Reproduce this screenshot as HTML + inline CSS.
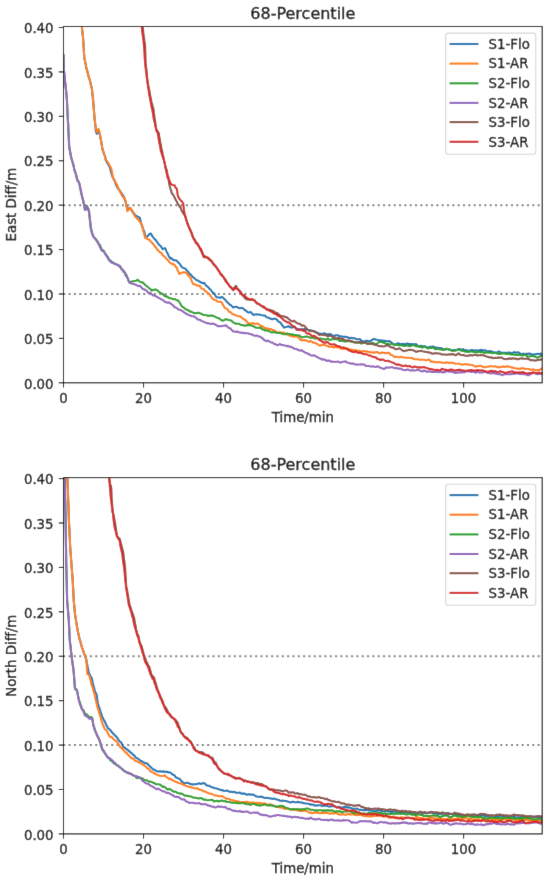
<!DOCTYPE html><html><head><meta charset="utf-8"><title>68-Percentile</title><style>html,body{margin:0;padding:0;background:#fff;}svg{display:block;}text{font-family:"DejaVu Sans","Liberation Sans",sans-serif;fill:#1a1a1a;stroke:#1a1a1a;stroke-width:0.35px;}</style></head><body>
<svg width="550" height="881" viewBox="0 0 550 881">
<defs><filter id="bl" x="0" y="0" width="550" height="881" filterUnits="userSpaceOnUse"><feConvolveMatrix order="3" kernelMatrix="0.00524 0.06192 0.00524 0.06192 0.73137 0.06192 0.00524 0.06192 0.00524" edgeMode="duplicate"/></filter></defs><g filter="url(#bl)">
<rect width="550" height="881" fill="#fff"/>
<clipPath id="c0"><rect x="63.5" y="26.5" width="478.70000000000005" height="356.3"/></clipPath>
<line x1="63.5" x2="542.2" y1="293.98" y2="293.98" stroke="#808080" stroke-width="2" stroke-dasharray="2 3.33" stroke-dashoffset="-5.1"/>
<line x1="63.5" x2="542.2" y1="205.15" y2="205.15" stroke="#808080" stroke-width="2" stroke-dasharray="2 3.33" stroke-dashoffset="-5.1"/>
<g clip-path="url(#c0)" fill="none" stroke-width="2.1" stroke-linejoin="round" stroke-linecap="square">
<polyline stroke="#1f77b4" points="81.8,26.92 81.96,27.65 82.12,29.02 82.29,30.92 82.45,32.05 82.61,33.76 82.77,35.51 82.94,36.72 83.1,37.84 83.19,39.71 83.28,41.77 83.38,42.84 83.47,44.2 83.56,46.48 83.65,47.43 83.75,48.6 83.84,51.19 83.93,51.54 84.02,53.38 84.12,53.8 84.21,55.26 84.3,57.66 84.57,59.53 84.84,60.27 85.11,61.49 85.39,63.03 85.66,63.93 85.93,65.85 86.2,68.33 86.59,68.75 86.97,69.28 87.36,71.18 87.75,72.69 88.14,75.03 88.53,76.1 88.91,77.36 89.3,78.61 89.72,79.73 90.13,81.77 90.55,82.73 90.97,85.05 91.38,86.55 91.8,88.29 91.97,89.44 92.14,90.57 92.31,93.08 92.49,94.59 92.66,96.43 92.83,97.69 93,100.14 93.11,101.11 93.23,101.64 93.34,103.34 93.45,104.77 93.57,104.97 93.68,106.65 93.79,108.72 93.91,110.45 94.02,111.55 94.13,112.39 94.25,114.23 94.36,115.16 94.47,117.41 94.59,118.59 94.7,119.6 94.86,121.07 95.01,122.48 95.17,124.06 95.33,125.56 95.49,127.25 95.64,129.17 95.8,131.12 96.3,132.32 96.8,133.81 97.7,132.4 98.6,131.17 99.07,132.84 99.55,133.49 100.03,136.16 100.5,137.19 100.74,139.57 100.97,140.15 101.21,141.24 101.45,142.79 101.69,144.31 101.93,145.55 102.16,147.55 102.4,148.18 102.88,150.42 103.35,151.5 103.83,153.65 104.3,154.77 104.78,155.57 105.25,157.46 105.73,159.96 106.2,161.02 106.92,162.36 107.65,163.54 108.38,164.63 109.1,165.94 109.59,166.98 110.07,168.13 110.56,170.05 111.05,172.47 111.54,173.99 112.03,175.44 112.51,176.78 113,177.65 113.69,179.16 114.37,180.35 115.06,182.22 115.74,184.02 116.43,185.66 117.11,186.8 117.8,188.33 118.58,188.98 119.36,190.15 120.14,191.33 120.92,192.26 121.7,193.29 122.46,194.55 123.22,196.06 123.98,196.85 124.74,199.67 125.5,201.08 125.82,202.46 126.13,204.12 126.45,205.34 126.77,206.94 127.08,208.47 127.4,210.07 128.85,208.09 130.3,208.07 131.27,209.61 132.23,211.35 133.2,212.92 134.3,213.87 135.4,215.36 136.5,215.85 138.15,216.99 139.8,217.74 140.24,219.22 140.68,221.81 141.12,223.69 141.56,224.78 142,226.31 142.41,227.17 142.82,227.48 143.24,229.3 143.65,230.56 144.06,231.45 144.48,232.04 144.89,234.61 145.3,236.3 147.5,236.49 148.57,234.94 149.63,233.9 150.7,233.45 151.43,234.43 152.17,235.97 152.9,236.93 154,238.51 155.1,239.43 156.2,240.78 157.3,242.2 158.37,243.89 159.43,245.13 160.5,245.85 161.6,247.49 162.7,249.18 164.9,248.11 165.63,249.17 166.37,251.14 167.1,252.65 167.93,254.03 168.75,256.46 169.57,257.13 170.4,258.6 171.83,258.4 173.27,260.11 174.7,260.17 176.9,260.81 178,262.26 179.1,263.33 180.2,264.39 181.3,266.46 182.73,267.58 184.17,268.26 185.6,268.79 186.48,270.22 187.36,270.95 188.24,271.77 189.12,273.46 190,274.08 191.1,274.9 192.2,276.44 193.3,277.43 194.4,278.15 195.5,279.38 196.93,280.16 198.37,280.72 199.8,281.79 201.27,282.54 202.73,283.3 204.2,282.86 205.3,284.47 206.4,286.01 207.5,286.55 208.57,287.62 209.65,289.09 210.73,289.59 211.8,291.29 212.9,292.95 214,293.14 215.1,294.85 216.2,297.17 217.3,297.19 218.65,297.45 220,297.87 221.47,297.03 222.93,297.49 224.4,298.9 225.47,300.01 226.55,301.52 227.62,302.56 228.7,303.59 229.8,304.76 230.9,305.1 232,306.35 233.1,307.41 234.57,307.06 236.03,306.75 237.5,307.15 238.93,308.22 240.37,308.14 241.8,307.71 243.25,308.58 244.7,309.96 246.15,310.75 247.6,312.21 249.05,312.6 250.5,311.9 252,313.51 253.5,314.94 254.93,314.52 256.37,314.18 257.8,314.56 259.27,314.54 260.73,315.03 262.2,315.31 263.63,315.53 265.07,315.57 266.5,317.31 267.97,317.45 269.43,318.29 270.9,318.9 272.37,319.13 273.83,318.67 275.3,318.78 276.73,319.49 278.17,321.41 279.6,322.06 280.7,322.95 281.8,324.71 282.9,325.96 284,327.58 285.47,327.33 286.93,326.84 288.4,326.05 289.83,327.26 291.27,327.41 292.7,327.37 293.1,326.66 294.55,327.04 296,328.15 297.45,329.4 298.9,329.1 300.35,329.61 301.8,329.27 303.25,329.27 304.7,329.13 306.15,329.49 307.6,330.01 309.05,330.21 310.5,330.14 311.97,330.69 313.43,330.94 314.9,331.86 316.37,332.23 317.83,332.95 319.3,333.93 320.75,333.65 322.2,334.49 323.65,333.36 325.1,333.5 326.55,334.36 328,334.37 329.45,334.15 330.9,334.31 332.35,335.41 333.8,336.25 335.25,335.4 336.7,335.29 338.17,335.28 339.63,336.3 341.1,336.25 342.57,336.57 344.03,336.73 345.5,336.83 346.95,336.98 348.4,337.83 349.85,338.06 351.3,337.84 352.75,338.28 354.2,338.15 355.65,338.86 357.1,339.19 358.55,339.31 360,339.04 361.45,340.93 362.9,341.16 364.35,341.73 365.8,340.84 367.25,340.79 368.7,341.34 370.15,341.12 371.6,340.27 373.07,339.23 374.53,338.9 376,339.54 377.47,340.06 378.93,340.34 380.4,340.24 381.85,340.45 383.3,340.83 384.75,340.73 386.2,341.02 387.65,341.33 389.1,340.94 390.58,341.9 392.05,343.06 393.52,344.27 395,344.36 396.51,343.95 398.02,343.22 399.53,343.77 401.04,344.15 402.56,343.68 404.07,344.16 405.58,343.95 407.09,343.55 408.6,343.89 410.12,344.04 411.64,344.09 413.17,344.21 414.69,344.4 416.21,344.16 417.73,345.68 419.26,346.36 420.78,345.68 422.3,346.08 423.81,346.24 425.32,346.32 426.83,347.28 428.34,347.48 429.86,346.86 431.37,346.91 432.88,346.38 434.39,347.12 435.9,347.56 437.41,347.86 438.92,347.92 440.43,348.13 441.94,348.43 443.46,349.41 444.97,349.27 446.48,349.04 447.99,349.33 449.5,349.72 451.02,350.09 452.54,350.34 454.07,349.9 455.59,350.21 457.11,349.69 458.63,349.11 460.16,349.11 461.68,349.7 463.2,349.12 464.9,350.33 466.6,350.32 468.3,350.68 470,350.53 471.51,349.99 473.02,350.15 474.53,350.65 476.04,350.28 477.56,350.65 479.07,350.36 480.58,349.89 482.09,349.93 483.6,350.64 485.12,350.27 486.64,351 488.17,351.18 489.69,350.97 491.21,351.21 492.73,352.22 494.26,352.39 495.78,352.53 497.3,352.15 498.81,351.4 500.32,352.12 501.83,352.73 503.34,352.77 504.86,352.84 506.37,352.92 507.88,352.81 509.39,352.57 510.9,353.04 512.41,353.04 513.92,352.08 515.43,352.5 516.94,352.6 518.46,352.19 519.97,353.42 521.48,354.5 522.99,353.6 524.5,353.95 525.98,353.75 527.45,353.86 528.92,353.61 530.4,353.8 531.88,354.51 533.35,354.48 534.83,354.23 536.3,354.1 537.78,353.81 539.25,353.94 540.73,353.6 542.2,354.53"/>
<polyline stroke="#ff7f0e" points="81.8,25.69 81.96,27.43 82.12,29.55 82.29,30.99 82.45,32.62 82.61,33.44 82.77,35.12 82.94,36.67 83.1,38.84 83.19,40.29 83.28,41.66 83.38,42.72 83.47,43.89 83.56,45.55 83.65,47.74 83.75,48.12 83.84,48.5 83.93,51.56 84.02,53.79 84.12,55.26 84.21,56.59 84.3,57.59 84.57,58.79 84.84,59.68 85.11,61.64 85.39,63 85.66,63.57 85.93,65.16 86.2,66.66 86.59,68.06 86.97,70.69 87.36,72.42 87.75,72 88.14,74.05 88.53,76.11 88.91,78.02 89.3,79.49 89.72,79.77 90.13,81.92 90.55,83.46 90.97,85.68 91.38,87.16 91.8,87.74 91.97,90.26 92.14,90.93 92.31,93.03 92.49,94.57 92.66,95.64 92.83,96.07 93,97.59 93.11,99 93.23,100.77 93.34,102.38 93.45,104.79 93.57,106.24 93.68,108.04 93.79,108.58 93.91,109.81 94.02,111.77 94.13,113.55 94.25,115.04 94.36,115.97 94.47,116.81 94.59,119.23 94.7,120.08 94.94,121.33 95.17,123.58 95.41,124.8 95.65,125.78 95.89,127.65 96.12,128.85 96.36,130.87 96.6,131.98 97.23,130.14 97.87,130.09 98.5,128.95 98.79,129.9 99.07,130.89 99.36,131.45 99.64,132.7 99.93,133.67 100.21,135.81 100.5,137.81 100.74,138.91 100.97,140.06 101.21,141.76 101.45,143.16 101.69,144.84 101.93,146.42 102.16,147.9 102.4,149.47 102.88,150.23 103.35,152.07 103.83,152.46 104.3,154.28 104.78,155.76 105.25,157.55 105.73,158.93 106.2,160.54 107.02,160.95 107.83,162.32 108.65,163.52 109.47,165.3 110.28,166.81 111.1,167.91 111.42,169.38 111.73,170.8 112.05,172.57 112.37,174.54 112.68,176.48 113,177.89 113.69,178.71 114.37,179.86 115.06,181.83 115.74,182.72 116.43,184.14 117.11,184.61 117.8,186.95 118.45,188.42 119.1,189.48 119.75,190.84 120.4,192.55 121.05,193.76 121.7,195.15 122.65,196.56 123.6,197.42 124.55,198.26 125.5,200.63 125.77,201.84 126.04,203.93 126.31,205.73 126.59,206.6 126.86,207.6 127.13,208.79 127.4,211.1 128.85,209.44 130.3,207.74 131.03,209.32 131.75,209.9 132.47,210.88 133.2,211.96 133.8,214.13 134.4,215.65 135.47,216.77 136.55,218.25 137.62,219.04 138.7,219.94 139.8,221.97 140.9,223.1 142,224.74 142.37,226.77 142.73,228.25 143.1,230.53 143.47,231.57 143.83,232.11 144.2,233.91 144.57,235.5 144.93,237.29 145.3,237.92 146.73,238.4 148.17,239.41 149.6,239.76 150.7,241.52 151.8,242.26 152.9,243.79 154,245.03 154.88,246.8 155.76,247.11 156.64,248.76 157.52,249.73 158.4,250.67 159.47,251.6 160.55,252.49 161.62,253.38 162.7,255.29 164.17,256.13 165.63,258.06 167.1,259.34 168.2,260.56 169.3,262.03 170.4,262.79 172,264.1 173.6,264.09 174.7,265.13 175.8,266.87 176.9,267.83 177.45,269.94 178,271.05 178.55,271.82 179.1,273.88 180.57,273.34 182.03,272.71 183.5,272.24 185.1,272.41 186.7,272.92 187.8,274.87 188.9,275.92 190,277.37 190.66,278.42 191.32,279.95 191.98,281.63 192.64,283.16 193.3,284.21 194.9,284.4 196.5,285.22 198.15,285.66 199.8,285.81 200.9,287.95 202,288.45 203.1,288.88 204.2,289.68 205.27,291.21 206.35,291.67 207.43,292.74 208.5,293.15 209.6,294.48 210.7,296.15 211.8,297.75 212.9,298.95 214.37,299.94 215.83,300.02 217.3,301.43 220,302.03 220.88,301.89 221.76,302.52 222.64,304.22 223.52,305.71 224.4,307.34 225.43,308.13 226.46,308.47 227.49,309.23 228.51,311.11 229.54,311.98 230.57,312.11 231.6,313.33 233.06,314.28 234.52,314.71 235.98,315.43 237.44,315.97 238.9,316.26 240.35,316.58 241.8,317.63 243.25,318.93 244.7,319.46 246.17,320.98 247.63,322.7 249.1,323.57 250.55,323.52 252,323.43 253.45,323.02 254.9,323.98 256.37,323.77 257.83,323.59 259.3,324.73 260.73,325.88 262.17,326.23 263.6,327.21 265.08,327.97 266.55,328.95 268.02,328.58 269.5,329.06 270.95,329.09 272.4,329.99 273.85,330.27 275.3,331.11 276.74,332.35 278.18,332.58 279.62,332.16 281.06,332.41 282.5,332.88 283.96,332.43 285.42,333.71 286.88,334.21 288.34,334.95 289.8,335.76 291.26,335.85 292.72,336.51 294.18,336.66 295.64,336.14 297.1,336.45 298.28,337.31 299.45,338.59 300.62,340.17 301.8,339.98 303.25,340.17 304.7,340.05 306.15,340.47 307.6,341.1 309.05,341.9 310.5,340.93 311.97,341.63 313.43,342.82 314.9,342.76 316.37,343.65 317.83,344.29 319.3,345.35 320.75,345.53 322.2,344.52 323.65,344.62 325.1,345.35 326.55,345.74 328,346.06 329.45,346.98 330.9,346.51 332.35,346.9 333.8,347.59 335.25,346.76 336.7,347.28 338.17,347.48 339.63,347.47 341.1,348.84 342.57,348.43 344.03,348.91 345.5,348.53 346.95,348.33 348.4,348.81 349.85,349.61 351.3,349.57 352.75,349.98 354.2,349.95 355.65,350.57 357.1,350.61 358.55,350.73 360,351.09 361.45,351.28 362.9,351.29 364.35,351.14 365.8,351.37 367.25,351.33 368.7,352.16 370.15,352.11 371.6,352.56 373.07,352.27 374.53,352.66 376,352.01 377.47,352.11 378.93,353.09 380.4,353.31 381.85,352.43 383.3,352.73 384.75,353.11 386.2,353.16 387.65,352.89 389.1,352.88 390.58,354.77 392.05,355.18 393.52,356.25 395,357.08 396.51,356.68 398.02,356.96 399.53,357.17 401.04,356.8 402.56,357.22 404.07,357.47 405.58,357.77 407.09,357.73 408.6,357.72 410.12,358.05 411.64,357.91 413.17,358.78 414.69,359.1 416.21,359.22 417.73,359.23 419.26,359.63 420.78,359.81 422.3,359.76 423.73,359.75 425.15,360.1 426.57,360.28 428,359.62 429.32,359.62 430.63,361.52 431.95,361.58 433.27,361.83 434.58,361.72 435.9,362.34 437.41,362.17 438.92,362.05 440.43,362.29 441.94,362.6 443.46,362.79 444.97,362.94 446.48,362.17 447.99,362.86 449.5,362.72 451.02,363.01 452.54,362.59 454.07,363.33 455.59,363.77 457.11,363.81 458.63,363.81 460.16,363.8 461.68,364.8 463.2,364.5 464.9,364.12 466.6,364.17 468.3,364.62 470,364.77 471.51,364.99 473.02,365.33 474.53,366.04 476.04,366.77 477.56,366.13 479.07,365.93 480.58,365.85 482.09,366.42 483.6,367.06 485.12,367.18 486.64,366.74 488.17,366.73 489.69,366.19 491.21,366.31 492.73,366.49 494.26,366.25 495.78,366.52 497.3,367.21 498.81,366.93 500.32,367.12 501.83,367.05 503.34,366.22 504.86,366.98 506.37,366.56 507.88,366.14 509.39,366.84 510.9,367.2 512.41,367.63 513.92,367.89 515.43,368.47 516.94,368.45 518.46,368.82 519.97,368.87 521.48,368.12 522.99,368.37 524.5,368.7 525.98,368.91 527.45,368.95 528.92,368.97 530.4,369.8 531.88,369.86 533.35,369.35 534.83,370.05 536.3,370.13 537.78,370.15 539.25,370.12 540.73,369.08 542.2,368.46"/>
<polyline stroke="#2ca02c" points="63.5,54.91 63.54,56.49 63.58,58.66 63.62,59.2 63.66,61.23 63.7,62.42 63.74,64.45 63.78,65.65 63.82,67.03 63.86,68.7 63.9,69.83 64.05,71.28 64.2,72.63 64.35,74.71 64.5,76.03 64.65,76.52 64.8,78.25 64.95,79.82 65.1,81.23 65.25,83.23 65.4,84.86 65.55,85.3 65.7,87.36 65.85,88.38 66,89.56 66.13,90.83 66.26,92.34 66.39,94.23 66.51,95.06 66.64,96.61 66.77,97.86 66.9,99.39 66.97,100.82 67.04,102.73 67.11,104.55 67.19,105.45 67.26,107.13 67.33,107.91 67.4,109.75 67.47,111.63 67.55,112.9 67.62,115.38 67.69,116.59 67.76,117.31 67.84,118.81 67.91,119.8 67.98,121.49 68.05,122.79 68.13,124.2 68.2,124.42 68.27,125.99 68.34,128.2 68.41,130.11 68.49,131.85 68.56,133.26 68.63,135.02 68.7,136.63 68.76,137.94 68.83,139.56 68.89,140.99 68.95,141.8 69.01,143.3 69.08,144.94 69.14,145.99 69.2,146.38 69.45,148.04 69.7,149.9 69.95,150.4 70.2,151.77 70.55,153.17 70.9,155.81 71.25,157.56 71.6,158.66 71.95,160.41 72.3,161.76 72.7,162.36 73.1,163.8 73.5,165.83 73.9,167.08 74.3,169.62 74.7,170.41 75.1,171.48 75.5,172.77 75.9,174.24 76.3,175.65 76.67,177.6 77.03,179.67 77.4,180.43 78.35,181.34 79.3,183.13 79.62,184.81 79.94,187.12 80.27,188.67 80.59,189.94 80.91,192.49 81.23,192.9 81.56,193.72 81.88,195.98 82.2,197.58 82.58,198.91 82.96,199.75 83.34,201.6 83.72,203.28 84.1,204.47 84.32,206.06 84.55,206.88 84.78,209.12 85,210.01 85.67,209.34 86.33,207.55 87,205.95 87.63,207.42 88.27,208.53 88.9,210.42 89.06,211.48 89.22,213.17 89.38,215.01 89.53,216.78 89.69,218.42 89.85,219.48 90.01,221.68 90.17,222.63 90.33,223.57 90.48,225.11 90.64,227.32 90.8,227.65 91.2,229.04 91.6,231.36 92,232.76 92.4,233.58 92.8,235.55 93.73,237.1 94.67,238.2 95.6,238.87 96.57,240.22 97.53,241.38 98.5,243.48 99.22,244.32 99.95,245.06 100.68,247.05 101.4,248.56 102.36,250.46 103.32,250.37 104.28,251.8 105.24,253.65 106.2,254.69 107.17,256.3 108.15,257.4 109.12,259.71 110.1,260.34 111.4,261.37 112.7,262.3 114,263.24 115.4,264.11 116.8,264.44 118.25,265.41 119.7,266.57 120.67,267.8 121.65,269.36 122.62,269.92 123.6,271.93 124.36,272.22 125.12,272.93 125.88,274.33 126.64,275.5 127.4,277.55 128.07,279.27 128.73,281.01 129.4,282.56 129.8,282.28 130,282.67 131.47,281.64 132.93,281.34 134.4,281.03 136,280.78 137.6,279.74 138.7,280.7 139.8,281.59 141.45,282.36 143.1,282.6 144.57,284.29 146.03,285.67 147.5,286.74 148.93,287.97 150.37,289.06 151.8,290.58 153.27,290.05 154.73,289.58 156.2,289.55 157.63,290.57 159.07,292.03 160.5,292.93 161.97,293.58 163.43,294.82 164.9,296.33 166.37,296.26 167.83,297.19 169.3,298.23 170.73,298.28 172.17,298.74 173.6,299.27 175.07,299.13 176.53,300.23 178,300.4 179.1,301.78 180.2,303.51 181.3,305.63 182.4,306.76 183.83,307.6 185.27,308.93 186.7,309.81 188.17,310.13 189.63,311.35 191.1,311.6 192.57,312.32 194.03,313.23 195.5,313.12 196.93,313.1 198.37,312.66 199.8,313.29 201.27,313.73 202.73,314.59 204.2,315.01 205.63,315.06 207.07,315.43 208.5,316.03 209.97,315.45 211.43,315.63 212.9,315.67 214.37,316.28 215.83,317.14 217.3,317.8 218.65,318.08 220,319.1 221.46,320.15 222.92,320.65 224.38,320.01 225.84,319.3 227.3,319.5 228.74,319.97 230.18,320.33 231.62,320.84 233.06,322.36 234.5,322.91 235.96,323.77 237.42,323.82 238.88,323.69 240.34,324.73 241.8,325.1 243.26,325.15 244.72,325.66 246.18,325.47 247.64,325.15 249.1,325.09 250.56,325.28 252.02,325.68 253.48,326.29 254.94,327.23 256.4,327.79 257.84,327.8 259.28,327.99 260.72,327.61 262.16,329.37 263.6,329.44 265.06,330.55 266.52,330.48 267.98,330.79 269.44,331.31 270.9,332.19 272.36,332.42 273.82,331.93 275.28,332.26 276.74,333.06 278.2,333.05 279.66,332.8 281.12,333.34 282.58,334.04 284.04,334.26 285.5,334.29 286.94,333.41 288.38,333.71 289.82,333.94 291.26,334.67 292.7,334.39 294.16,335.03 295.62,334.94 297.08,335.21 298.54,335.21 300,336.13 301.8,337.35 303.25,337.07 304.7,336.81 306.15,336.48 307.6,336.83 309.05,337.26 310.5,337.63 311.97,337.53 313.43,337.98 314.9,338.52 316.37,338.56 317.83,338.42 319.3,338.66 320.75,338.49 322.2,338.79 323.65,338.95 325.1,339.66 326.55,339.34 328,338.5 329.45,339.98 330.9,339.77 332.35,338.84 333.8,339.12 335.25,339.17 336.7,338.91 338.17,339.54 339.63,341.03 341.1,340.87 342.57,340.71 344.03,341.33 345.5,341.35 346.95,341.21 348.4,341.09 349.85,340.88 351.3,341.9 352.75,342.06 354.2,342.35 355.65,342.1 357.1,342.59 358.55,342.64 360,342.7 361.45,343.74 362.9,342.64 364.35,343.08 365.8,342.88 367.25,343.42 368.7,343.91 370.15,343.66 371.6,343.1 373.07,342.95 374.53,343.8 376,344.19 377.47,343.27 378.93,342.06 380.4,341.81 381.85,341.91 383.3,342.75 384.75,343.04 386.2,343.89 387.65,343.67 389.1,344.49 390.58,344.2 392.05,343.84 393.52,344.59 395,344.95 396.51,344.47 398.02,345.12 399.53,345.33 401.04,345 402.56,345.5 404.07,345.98 405.58,345.69 407.09,345.23 408.6,346.06 410.12,346.15 411.64,345.48 413.17,345.11 414.69,345.59 416.21,346.39 417.73,346.04 419.26,346.9 420.78,346.73 422.3,347.63 423.81,346.92 425.32,346.97 426.83,347.99 428.34,348.49 429.86,347.83 431.37,348.08 432.88,347.41 434.39,348.54 435.9,349.35 437.41,348.82 438.92,349.28 440.43,349.12 441.94,349.89 443.46,349.57 444.97,349.64 446.48,348.67 447.99,349.11 449.5,349.48 451.02,350.34 452.54,351.04 454.07,350.66 455.59,350.5 457.11,350.01 458.63,349.54 460.16,350.04 461.68,350.85 463.2,350.87 464.9,351.62 466.6,351.52 468.3,352.07 470,351.62 471.51,351.21 473.02,351.86 474.53,351.91 476.04,352.38 477.56,352.21 479.07,351.76 480.58,352.13 482.09,351.97 483.6,352.58 485.12,353.01 486.64,352 488.17,352.78 489.69,352.78 491.21,352.81 492.73,353.25 494.26,352.97 495.78,353 497.3,353.63 498.81,353.85 500.32,354.06 501.83,353.37 503.34,353.38 504.86,353.46 506.37,354.08 507.88,353.81 509.39,353.96 510.9,354.57 512.41,354.26 513.92,354.75 515.43,354.55 516.94,355.13 518.46,354.68 519.97,354.96 521.48,355.15 522.99,355.53 524.5,354.18 525.98,355.32 527.45,356.69 528.92,356.49 530.4,356.28 531.88,356.31 533.35,356.06 534.83,356.46 536.3,357.45 537.78,357.31 539.25,356.86 540.73,355.89 542.2,355.84"/>
<polyline stroke="#9467bd" points="63.5,55.52 63.54,57.49 63.58,59.17 63.62,61.02 63.66,62.07 63.7,63.78 63.74,65.22 63.78,66.06 63.82,68.06 63.86,68.98 63.9,69.65 64.05,71 64.2,72.2 64.35,73.62 64.5,75.71 64.65,77.06 64.8,79.31 64.95,80.28 65.1,81.87 65.25,83.11 65.4,83.54 65.55,85.3 65.7,87.09 65.85,89.02 66,89.66 66.13,91.76 66.26,93.7 66.39,94.42 66.51,96.04 66.64,98.05 66.77,98.33 66.9,100.19 66.97,100.64 67.04,102.65 67.11,105.1 67.19,106.25 67.26,108 67.33,108.52 67.4,109.93 67.47,111.36 67.55,113.44 67.62,114.7 67.69,116.54 67.76,117.77 67.84,118.76 67.91,120.33 67.98,121.89 68.05,123.12 68.13,124.94 68.2,125.8 68.27,127.44 68.34,129.21 68.41,130.25 68.49,131.75 68.56,133.21 68.63,133.97 68.7,136.5 68.76,137.6 68.83,139.26 68.89,138.99 68.95,141.46 69.01,142.65 69.08,143.66 69.14,145.22 69.2,147.25 69.45,147.81 69.7,150.12 69.95,150.94 70.2,153.26 70.55,154.73 70.9,156.58 71.25,158.04 71.6,158.64 71.95,159.78 72.3,161.49 72.7,162.68 73.1,164.15 73.5,165.09 73.9,167.11 74.3,169.82 74.7,171.27 75.1,172.39 75.5,172.88 75.9,174.2 76.3,176.26 76.67,177.38 77.03,178.94 77.4,179.9 78.35,181.5 79.3,183.48 79.62,184.73 79.94,186.01 80.27,187.8 80.59,189.2 80.91,189.75 81.23,192.05 81.56,194.43 81.88,195.84 82.2,196.93 82.58,197.89 82.96,199.23 83.34,200.96 83.72,203.16 84.1,204.65 84.32,205.97 84.55,206.89 84.78,208.59 85,209.76 85.67,209.57 86.33,208.24 87,206.7 87.63,208.77 88.27,210.54 88.9,211.28 89.06,211.72 89.22,213.8 89.38,214.82 89.53,216.56 89.69,217.33 89.85,218.68 90.01,220.13 90.17,221.27 90.33,222.43 90.48,224.73 90.64,226.01 90.8,228.18 91.2,229.85 91.6,231.23 92,232.88 92.4,234.05 92.8,235.46 93.73,236.9 94.67,238.24 95.6,239.12 96.57,240.88 97.53,242.21 98.5,244.09 99.22,244.91 99.95,247.41 100.68,248.4 101.4,250.01 102.36,251.04 103.32,251.12 104.28,252.23 105.24,254.06 106.2,255.74 107.17,256.74 108.15,258.77 109.12,260.37 110.1,261.1 111.4,262.54 112.7,263.12 114,263.16 115.4,264.09 116.8,264.6 118.25,265.3 119.7,265.72 120.67,266.95 121.65,269 122.62,269.89 123.6,270.61 124.36,271.72 125.12,273.9 125.88,276.03 126.64,276.53 127.4,277.61 128.07,279.37 128.73,281.1 129.4,281.94 130,282.19 131.47,283.66 132.93,283.71 134.4,284.17 135.75,284.78 137.1,285.54 138.45,285.97 139.8,285.89 141.18,287.15 142.55,288.76 143.93,289.23 145.3,290.03 146.6,290.63 147.9,292.41 149.2,292.8 150.5,292.92 151.8,294.38 153.12,295.38 154.44,295.58 155.76,296.28 157.08,296.91 158.4,297.76 159.7,298.37 161,299.25 162.3,299.74 163.6,300.7 164.9,301.84 166.28,302.37 167.65,302.65 169.03,302.42 170.4,303.44 171.75,304.35 173.1,305.28 174.45,307.01 175.8,307.63 177.27,308.46 178.73,309.63 180.2,309.82 181.63,310.66 183.07,311.5 184.5,312.61 185.97,313.51 187.43,314.59 188.9,315.09 190.37,315.48 191.83,316.24 193.3,316.27 194.6,316.77 195.9,317.59 197.2,319.02 198.5,319.73 199.8,319.74 201.45,320.83 203.1,321.6 204.75,322.13 206.4,323.09 208.03,323.15 209.65,323.75 211.28,323.91 212.9,323.54 214.55,324.2 216.2,325.03 217.85,326.31 219.5,326.13 221.12,326.22 222.75,325.68 224.38,325.79 226,325.37 227.47,326.71 228.93,328.09 230.4,328.28 231.85,330.18 233.3,331.42 234.75,331.47 236.2,331.89 237.65,331.65 239.1,332.32 240.55,332.87 242,332.59 243.45,333.11 244.9,333.12 246.35,333.17 247.8,333.32 249.25,333.84 250.7,333.97 252.35,334.78 254,335.69 255.65,335.66 257.3,335.48 258.6,336.5 259.9,336.6 261.2,337.48 262.5,338.26 263.8,339.79 265.27,340.54 266.73,341.2 268.2,340.67 269.67,341.67 271.13,342.54 272.6,342.55 274.05,343.9 275.5,344.14 276.95,345.16 278.4,345 279.85,343.96 281.3,344.92 283.03,345.04 284.77,345.45 286.5,346.14 288.15,345.88 289.8,346.86 291.45,346.82 293.1,348.03 294.55,348.72 296,349.1 297.45,349.54 298.9,350.24 300.35,350.61 301.8,350.14 303.25,351.42 304.7,352.27 306.15,353.05 307.6,353.42 309.05,354.27 310.5,355.11 311.97,355.74 313.43,355.15 314.9,355.69 316.37,356.76 317.83,357.25 319.3,358.34 320.75,358.64 322.2,359.69 323.65,359.21 325.1,359.81 326.55,360.98 328,360.45 329.45,360.65 330.9,361.65 332.35,361.59 333.8,361.7 335.25,361.95 336.7,361.76 338.17,361.64 339.63,362.41 341.1,362.43 342.57,361.82 344.03,361.71 345.5,361.31 346.95,362.44 348.4,362.76 349.85,363.18 351.3,363.71 352.75,363.36 354.2,364.19 355.65,364.36 357.1,364.78 358.55,364.47 360,364.53 361.45,364.17 362.9,364.4 364.35,364.53 365.8,365.91 367.25,366.04 368.7,366.04 370.15,366.34 371.6,366.48 373.07,366.36 374.53,366.83 376,367.09 377.47,366.24 378.93,366.83 380.4,367.78 381.85,368.03 383.3,368.89 384.75,368.73 386.2,367.35 387.65,367.79 389.1,367.48 390.58,367.48 392.05,367.1 393.52,367.76 395,368.27 396.51,367.93 398.02,368.64 399.53,368.48 401.04,368.67 402.56,369.79 404.07,369.95 405.58,370.12 407.09,369.53 408.6,369.88 410.12,370.57 411.64,370.37 413.17,370.29 414.69,370.59 416.21,370.29 417.73,369.83 419.26,370.32 420.78,371.04 422.3,371.51 423.81,370.63 425.32,370.85 426.83,371.91 428.34,371.29 429.86,371.5 431.37,371.87 432.88,371.73 434.39,371.96 435.9,371.89 437.41,372.06 438.92,372.18 440.43,371.57 441.94,372.36 443.46,372.13 444.97,372.2 446.48,371.18 447.99,371.33 449.5,371.68 451.02,371.52 452.54,372.1 454.07,372.48 455.59,372.89 457.11,372.71 458.63,372.15 460.16,372.42 461.68,372.4 463.2,372.16 464.9,372.27 466.6,370.88 468.3,371.38 470,371.41 471.44,372.01 472.87,371.78 474.31,371.74 475.75,372.79 477.18,371.66 478.62,372.4 480.06,372.47 481.49,372.56 482.93,372.53 484.37,371.88 485.81,372.01 487.24,372.69 488.68,372.78 490.12,373.51 491.55,373.17 492.99,373.25 494.43,373.05 495.86,373.78 497.3,373.93 498.81,374.22 500.32,374.04 501.83,375.28 503.34,374.64 504.86,373.94 506.37,374.13 507.88,374.28 509.39,374.27 510.9,374.08 512.41,373.99 513.92,374.03 515.43,373.54 516.94,373.41 518.46,373.35 519.97,374.19 521.48,373.48 522.99,374.21 524.5,374.15 525.98,374.25 527.45,375.09 528.92,375.25 530.4,374.24 531.88,373.57 533.35,372.78 534.83,373.15 536.3,373.73 537.78,374.25 539.25,373.65 540.73,373.4 542.2,374.3"/>
<polyline stroke="#8c564b" points="142.46,26.44 142.65,26.81 142.84,28.64 143.02,29.33 143.21,31.75 143.4,33.69 143.59,34.71 143.78,36.36 143.97,38.02 144.15,39.01 144.34,40.9 144.53,42.11 144.72,42.73 144.91,44.14 145.1,45.84 145.14,47.3 145.19,48.87 145.23,50.2 145.28,51.68 145.33,53.42 145.37,54.65 145.42,56.02 145.46,57.8 145.51,59.76 145.56,60.51 145.6,62.29 145.65,62.99 145.81,64.59 145.97,67.19 146.12,67.67 146.28,68.72 146.44,70.13 146.6,71.54 146.76,73.1 146.92,74.89 147.08,76.27 147.24,78.39 147.39,79.57 147.55,81.06 147.81,81.78 148.07,83.87 148.32,85.49 148.58,86.62 148.84,88.18 149.09,89.5 149.35,90.4 149.61,91.9 149.86,93.31 150.12,95.25 150.38,96.37 150.68,98.15 150.98,98.73 151.29,100.91 151.59,102.55 151.89,103.49 152.2,104.01 152.5,105.73 152.8,106.91 153.11,107.51 153.41,108.79 153.71,110.76 153.88,112.93 154.06,113.81 154.23,115.59 154.41,117.1 154.58,118.1 154.75,119.13 155.02,120.34 155.3,122.87 155.57,124.54 155.84,126.78 156.12,128.54 156.39,129.36 157.14,130.44 157.89,131.88 158.64,132.87 158.9,133.88 159.15,136.34 159.41,137.29 159.67,138.11 159.93,140.2 160.19,141.87 160.44,143.6 160.7,143.82 160.96,145.41 161.22,147.46 161.48,148.56 161.73,149.96 162.07,150.82 162.41,152.44 162.75,154.29 163.09,155.64 163.42,157.15 163.76,159.09 164.1,160.99 164.44,162.35 164.77,163.62 165.1,165.49 165.43,166.04 165.77,167.86 166.1,168.55 166.43,169.57 166.76,170.19 167.1,172.02 167.43,174 167.76,175.16 168.09,176.16 168.35,176.79 168.6,178.77 168.85,181.33 169.1,183.05 169.35,184.35 169.6,185.68 170.1,187.59 170.6,189.17 171.1,190.53 171.6,192.65 172.32,193.9 173.05,194.47 173.78,196.03 174.5,197.21 175.25,198.79 176,200.68 176.75,201.23 177.5,203.37 178.47,204.75 179.43,206.49 180.4,206.99 181.12,209.27 181.85,211.08 182.58,211.96 183.3,213.51 184.4,214.63 185.5,216.88 186,218.67 186.5,220.53 187,222.07 187.5,223.8 188,224.65 188.5,225.97 189,226.9 189.5,228.52 190.06,228.91 190.62,231.03 191.19,232.6 191.75,234.14 192.31,236.1 192.88,236.98 193.44,237.85 194,239.04 194.88,239.64 195.76,242.13 196.64,242.69 197.52,243.5 198.4,244.97 199.45,247.76 200.5,249.68 201.16,250.87 201.82,252.78 202.48,254.29 203.14,255.64 203.8,257.3 205.27,257.11 206.73,257.45 208.2,258.6 209.3,259.68 210.4,260.43 211.5,261.31 212.57,262.86 213.65,264.62 214.73,265.51 215.8,266.69 216.64,267.87 217.48,268.95 218.32,270.24 219.16,271.21 220,273.19 220.88,273.98 221.76,274.49 222.64,276.3 223.52,276.89 224.4,278.41 225.26,279.18 226.12,280.77 226.98,282.7 227.84,283.59 228.7,284.37 229.8,286.58 230.9,287.23 232,288.57 233.1,289.09 234.55,287.41 236,285.77 237.1,288.28 238.2,289.22 239.3,290.27 240.4,291.48 241.47,293.18 242.55,295.27 243.62,296.42 244.7,297.73 246.17,299.23 247.63,299.58 249.1,299.77 250.57,300.05 252.03,299.26 253.5,299.67 254.57,300.4 255.65,301.98 256.73,303.41 257.8,303.68 259.25,304.34 260.7,305.37 262.15,306.34 263.6,307.42 265.06,308.06 266.52,308.9 267.98,309.3 269.44,309.79 270.9,310.13 272.36,310.76 273.82,311.34 275.28,312.67 276.74,312.91 278.2,313.76 279.42,315.27 280.63,315.64 281.85,316.23 283.07,316.2 284.28,316.5 285.5,317.26 286.94,317.39 288.38,318.72 289.82,319.79 291.26,320.98 292.7,321.38 294.16,320.6 295.62,322.17 297.08,323.07 298.54,323.79 300,323.85 301.8,325.8 303.25,325.34 304.7,326.18 306.15,328.09 307.6,329.46 309.05,330.65 310.5,331.01 311.97,331.13 313.43,330.89 314.9,331.73 316.37,332.62 317.83,333.71 319.3,335.01 320.75,334.49 322.2,334.66 323.65,335.03 325.1,335.13 326.55,335.58 328,336.3 329.45,335.61 330.9,335.83 332.35,336.78 333.8,336.78 335.25,338.3 336.7,338.35 338.17,338.16 339.63,338.16 341.1,339.01 342.57,338.64 344.03,339.71 345.5,340.27 346.95,340.61 348.4,340.26 349.85,340.9 351.3,340.91 352.75,341.39 354.2,342.15 355.65,342.73 357.1,342.54 358.55,342.14 360,342.15 361.45,342.21 362.9,342.54 364.35,342.7 365.8,342.69 367.25,344.1 368.7,343.54 370.15,343.72 371.6,343.74 373.07,344.19 374.53,344.68 376,344.87 377.47,345.48 378.93,346.14 380.4,346.05 381.85,346.15 383.3,346.51 384.75,346.28 386.2,345.22 387.65,345.47 389.1,346.04 390.58,347.03 392.05,347.59 393.52,347.62 395,348.96 396.51,349.23 398.02,348.8 399.53,348.31 401.04,349.5 402.56,350.53 404.07,351.3 405.58,350.6 407.09,350.53 408.6,349.89 410.12,349.67 411.64,349.94 413.17,350.35 414.69,350.9 416.21,352.03 417.73,351.15 419.26,351.18 420.78,350.73 422.3,351.28 423.81,351.53 425.32,351.96 426.83,351.9 428.34,352.42 429.86,352.51 431.37,353.4 432.88,353.62 434.39,353.45 435.9,352.94 437.41,353.35 438.92,353.49 440.43,353.78 441.94,354.45 443.46,354.44 444.97,354.53 446.48,354.8 447.99,354.54 449.5,354.35 451.02,354.39 452.54,354.12 454.07,354.5 455.59,355.23 457.11,354.48 458.63,353.19 460.16,354.71 461.68,354.92 463.2,355.1 464.9,355.62 466.6,355.8 468.3,355.9 470,355.04 471.51,355.34 473.02,355.35 474.53,354.89 476.04,355.05 477.56,355.56 479.07,355.21 480.58,354.98 482.09,355.14 483.6,355.25 485.12,355.99 486.64,356.44 488.17,357.01 489.69,357.54 491.21,357.16 492.73,358.22 494.26,358 495.78,357.82 497.3,358.02 498.81,357.42 500.32,357.67 501.83,357.65 503.34,358.66 504.86,359 506.37,359.14 507.88,359 509.39,358.22 510.9,358.93 512.41,358.32 513.92,358.65 515.43,358.59 516.94,359.08 518.46,359.17 519.97,358.54 521.48,358.37 522.99,358.6 524.5,358.77 525.98,358.78 527.45,358.75 528.92,359.11 530.4,360.16 531.88,359.98 533.35,360.2 534.83,360.61 536.3,360.56 537.78,359.51 539.25,360.05 540.73,359.45 542.2,359.4"/>
<polyline stroke="#d62728" points="141.8,26.69 141.96,28.61 142.11,30.5 142.27,32.04 142.43,33.1 142.59,34.59 142.74,35.7 142.9,35.83 143.06,36.86 143.21,38.29 143.37,39.2 143.53,40.96 143.69,42.88 143.84,45.16 144,46.02 144.09,47.24 144.18,48.81 144.28,50.4 144.37,51.47 144.46,52.95 144.55,54.24 144.64,55.62 144.73,57.96 144.82,59.03 144.92,60.38 145.01,61.7 145.1,62.39 145.28,64.88 145.47,66.25 145.65,68.03 145.83,69.28 146.02,70.97 146.2,72.71 146.38,73.44 146.57,75.18 146.75,77.74 146.93,78.4 147.12,79.88 147.3,81.44 147.5,82.52 147.7,83.87 147.9,85.73 148.1,87.22 148.3,88.06 148.5,89.2 148.7,90.59 148.9,92.09 149.1,93.96 149.3,95.04 149.5,95.61 149.79,97.35 150.08,98.66 150.37,99.99 150.66,101.67 150.95,103.13 151.25,104.19 151.54,106.6 151.83,107.62 152.12,109.24 152.41,110.18 152.7,112.32 152.98,113.22 153.27,115.29 153.55,117.23 153.83,119.01 154.12,120.7 154.4,121.16 154.67,122.55 154.93,123.53 155.2,124.82 155.47,126.19 155.73,126.91 156,129.38 156.53,130.94 157.07,131.54 157.6,132.94 157.88,133.74 158.15,135.35 158.43,137.67 158.7,138.98 158.97,140.51 159.25,142.61 159.53,143.29 159.8,144.92 160.07,145.93 160.35,148 160.62,149.29 160.9,151.48 161.31,151.88 161.72,153.57 162.14,154.71 162.55,156.43 162.96,157.46 163.38,158.42 163.79,159.68 164.2,161.22 164.5,162.49 164.8,163.58 165.1,165.51 165.4,167.4 165.7,168.69 166,170.12 166.3,171.39 166.6,172.98 166.9,174.14 167.2,175.56 167.5,177.6 168.14,178.42 168.78,179.54 169.42,180.47 170.06,182.19 170.7,184.1 172.6,184.96 174.5,185.23 175.23,186.95 175.97,187.83 176.7,188.94 177,189.62 177.3,192.03 177.6,194.44 177.9,195.7 178.2,196.52 179.17,198.57 180.13,199.65 181.1,200.66 181.83,201.41 182.57,202.39 183.3,203.8 183.48,205.68 183.65,207.25 183.82,209.04 184,210.38 184.3,211.75 184.6,214.62 184.9,215.69 185.2,215.65 185.5,217.12 186,219.05 186.5,220.67 187,221.86 187.5,223.64 188,225.19 188.5,226.5 189,227.45 189.5,228.97 190.06,229.39 190.62,231.09 191.19,231.76 191.75,233.15 192.31,234.85 192.88,236.82 193.44,238.29 194,239.53 194.88,240.82 195.76,242.57 196.64,243.86 197.52,244.46 198.4,245.81 199.45,247.2 200.5,248.54 201.16,249.29 201.82,251.38 202.48,252.53 203.14,254.35 203.8,256.01 205.27,256.22 206.73,257.34 208.2,257.73 209.3,258.69 210.4,260.18 211.5,260.65 212.57,262.81 213.65,263.77 214.73,265.37 215.8,266.29 216.64,267.39 217.48,269.14 218.32,270.42 219.16,271.47 220,272.79 220.88,274.77 221.76,275.54 222.64,276.27 223.52,277.42 224.4,278.72 225.26,280.56 226.12,281.78 226.98,282.61 227.84,283.84 228.7,284.95 229.8,286.51 230.9,287.09 232,288.57 233.1,290.18 234.55,289.07 236,287.81 237.1,288.72 238.2,289.83 239.3,290.87 240.4,293.03 241.47,294.09 242.55,294.73 243.62,295.01 244.7,295.7 246.17,297.48 247.63,298.44 249.1,299 250.57,299.24 252.03,299.54 253.5,300.28 254.57,300.43 255.65,301.96 256.73,302.44 257.8,303.65 259.27,304.15 260.73,305.29 262.2,306.26 263.63,306.37 265.07,307.83 266.5,309.68 267.97,309.72 269.43,310.88 270.9,311.57 272.37,311.94 273.83,313.46 275.3,313.81 276.73,314.61 278.17,315.85 279.6,316.13 280.7,317.25 281.8,318.25 282.9,319.18 284,320.4 285.47,321.2 286.93,322.2 288.4,322.37 289.56,322.77 290.72,324.39 291.88,325.28 293.04,326.19 294.2,326.28 295.36,327.69 296.52,329.6 297.68,329.71 298.84,329.91 300,330.28 301.8,329.6 303.25,330.88 304.7,330.6 306.15,332.76 307.6,333.61 309.05,333.53 310.5,334.78 311.76,335.95 313.01,335.88 314.27,335.86 315.53,336.69 316.79,337.76 318.04,338.43 319.3,339.96 320.75,340.63 322.2,341.48 323.65,342.22 325.1,342.85 326.55,341.79 328,342.47 329.45,343.79 330.9,344.18 332.35,344.51 333.8,344.15 335.25,344.68 336.7,345.61 338.17,346.21 339.63,346.37 341.1,347.3 342.57,347.43 344.03,347.64 345.5,348.3 346.95,349.1 348.4,350.04 349.85,350.79 351.3,351.39 352.75,352.05 354.2,352.27 355.65,351.42 357.1,352.42 358.55,352.65 360,352.84 361.45,353.15 362.9,353.65 364.35,354.3 365.8,354.23 367.25,354.5 368.7,355.5 370.15,355.44 371.6,356.41 373.07,356.77 374.53,357.12 376,357.48 377.47,359.04 378.93,359.26 380.4,360.01 381.85,359.49 383.3,359.73 384.75,360.68 386.2,360.95 387.65,360.88 389.1,361.15 390.73,361.85 392.35,362.59 393.98,362.98 395.6,364.29 397.04,364.65 398.49,364.4 399.93,364.99 401.38,365.53 402.82,366.1 404.27,365.87 405.71,365.53 407.16,366.28 408.6,365.92 410.12,366.16 411.64,367.24 413.17,367.22 414.69,366.52 416.21,366.97 417.73,367.56 419.26,367.33 420.78,367.2 422.3,367.5 423.81,366.97 425.32,367.53 426.83,368.05 428.34,368.48 429.86,369.12 431.37,368.96 432.88,369.53 434.39,369.78 435.9,370.04 437.41,369.82 438.92,370.22 440.43,370.17 441.94,368.89 443.46,369.23 444.97,369.87 446.48,369.89 447.99,370.36 449.5,369.81 451.02,369.54 452.54,369.79 454.07,370.28 455.59,370.69 457.11,370.02 458.63,369.86 460.16,369.7 461.68,370.53 463.2,370.42 464.9,370.68 466.6,371.01 468.3,370.4 470,370.3 471.51,369.91 473.02,370.45 474.53,370.55 476.04,370.48 477.56,369.94 479.07,370.2 480.58,370.43 482.09,370.23 483.6,370.68 485.12,371.35 486.64,371.65 488.17,371.9 489.69,371.17 491.21,370.7 492.73,371.47 494.26,371.04 495.78,371.48 497.3,371.97 498.81,371.68 500.32,371.29 501.83,371.95 503.34,372.16 504.86,372.84 506.37,372.69 507.88,372.35 509.39,371.81 510.9,371.59 512.41,371.32 513.92,372.55 515.43,372.17 516.94,372.88 518.46,372.37 519.97,372.61 521.48,372.33 522.99,372.03 524.5,372.66 525.98,373.17 527.45,373.42 528.92,373.02 530.4,372.93 531.88,372.73 533.35,372.37 534.83,372.91 536.3,373.01 537.78,373.22 539.25,372.59 540.73,373.28 542.2,373.13"/>
</g>
<rect x="63.5" y="26.5" width="478.7" height="356.3" fill="none" stroke="#000" stroke-width="1.07"/>
<line x1="58.8" x2="63.5" y1="382.8" y2="382.8" stroke="#000" stroke-width="1.07"/>
<text x="53.6" y="388.5" font-size="13.33" text-anchor="end">0.00</text>
<line x1="58.8" x2="63.5" y1="338.39" y2="338.39" stroke="#000" stroke-width="1.07"/>
<text x="53.6" y="344.09" font-size="13.33" text-anchor="end">0.05</text>
<line x1="58.8" x2="63.5" y1="293.98" y2="293.98" stroke="#000" stroke-width="1.07"/>
<text x="53.6" y="299.68" font-size="13.33" text-anchor="end">0.10</text>
<line x1="58.8" x2="63.5" y1="249.56" y2="249.56" stroke="#000" stroke-width="1.07"/>
<text x="53.6" y="255.26" font-size="13.33" text-anchor="end">0.15</text>
<line x1="58.8" x2="63.5" y1="205.15" y2="205.15" stroke="#000" stroke-width="1.07"/>
<text x="53.6" y="210.85" font-size="13.33" text-anchor="end">0.20</text>
<line x1="58.8" x2="63.5" y1="160.74" y2="160.74" stroke="#000" stroke-width="1.07"/>
<text x="53.6" y="166.44" font-size="13.33" text-anchor="end">0.25</text>
<line x1="58.8" x2="63.5" y1="116.32" y2="116.32" stroke="#000" stroke-width="1.07"/>
<text x="53.6" y="122.02" font-size="13.33" text-anchor="end">0.30</text>
<line x1="58.8" x2="63.5" y1="71.91" y2="71.91" stroke="#000" stroke-width="1.07"/>
<text x="53.6" y="77.61" font-size="13.33" text-anchor="end">0.35</text>
<line x1="58.8" x2="63.5" y1="27.5" y2="27.5" stroke="#000" stroke-width="1.07"/>
<text x="53.6" y="33.2" font-size="13.33" text-anchor="end">0.40</text>
<line x1="63.5" x2="63.5" y1="382.8" y2="387.5" stroke="#000" stroke-width="1.07"/>
<text x="63.5" y="402.7" font-size="13.33" text-anchor="middle">0</text>
<line x1="143.52" x2="143.52" y1="382.8" y2="387.5" stroke="#000" stroke-width="1.07"/>
<text x="143.52" y="402.7" font-size="13.33" text-anchor="middle">20</text>
<line x1="223.54" x2="223.54" y1="382.8" y2="387.5" stroke="#000" stroke-width="1.07"/>
<text x="223.54" y="402.7" font-size="13.33" text-anchor="middle">40</text>
<line x1="303.56" x2="303.56" y1="382.8" y2="387.5" stroke="#000" stroke-width="1.07"/>
<text x="303.56" y="402.7" font-size="13.33" text-anchor="middle">60</text>
<line x1="383.58" x2="383.58" y1="382.8" y2="387.5" stroke="#000" stroke-width="1.07"/>
<text x="383.58" y="402.7" font-size="13.33" text-anchor="middle">80</text>
<line x1="463.6" x2="463.6" y1="382.8" y2="387.5" stroke="#000" stroke-width="1.07"/>
<text x="463.6" y="402.7" font-size="13.33" text-anchor="middle">100</text>
<text x="302.85" y="422" font-size="13.33" text-anchor="middle">Time/min</text>
<text transform="translate(15.6 204.65) rotate(-90)" font-size="13.33" text-anchor="middle">East Diff/m</text>
<text x="302.85" y="19.2" font-size="16.0" text-anchor="middle">68-Percentile</text>
<rect x="445.7" y="33.1" width="90.1" height="121.1" rx="2.5" fill="#fff" fill-opacity="0.8" stroke="#d6d6d6" stroke-width="1.07"/>
<line x1="449.6" x2="478.4" y1="44" y2="44" stroke="#1f77b4" stroke-width="2.1"/>
<text x="488.6" y="48.7" font-size="13.33">S1-Flo</text>
<line x1="449.6" x2="478.4" y1="63.6" y2="63.6" stroke="#ff7f0e" stroke-width="2.1"/>
<text x="488.6" y="68.3" font-size="13.33">S1-AR</text>
<line x1="449.6" x2="478.4" y1="83.3" y2="83.3" stroke="#2ca02c" stroke-width="2.1"/>
<text x="488.6" y="88" font-size="13.33">S2-Flo</text>
<line x1="449.6" x2="478.4" y1="102.9" y2="102.9" stroke="#9467bd" stroke-width="2.1"/>
<text x="488.6" y="107.6" font-size="13.33">S2-AR</text>
<line x1="449.6" x2="478.4" y1="122.1" y2="122.1" stroke="#8c564b" stroke-width="2.1"/>
<text x="488.6" y="126.8" font-size="13.33">S3-Flo</text>
<line x1="449.6" x2="478.4" y1="141.8" y2="141.8" stroke="#d62728" stroke-width="2.1"/>
<text x="488.6" y="146.5" font-size="13.33">S3-AR</text>
<clipPath id="c451"><rect x="63.5" y="477.6" width="478.70000000000005" height="356.29999999999995"/></clipPath>
<line x1="63.5" x2="542.2" y1="745.08" y2="745.08" stroke="#808080" stroke-width="2" stroke-dasharray="2 3.33" stroke-dashoffset="-5.1"/>
<line x1="63.5" x2="542.2" y1="656.25" y2="656.25" stroke="#808080" stroke-width="2" stroke-dasharray="2 3.33" stroke-dashoffset="-5.1"/>
<g clip-path="url(#c451)" fill="none" stroke-width="2.1" stroke-linejoin="round" stroke-linecap="square">
<polyline stroke="#1f77b4" points="67.4,477.83 67.45,479.23 67.5,480.58 67.56,481.84 67.61,483.95 67.66,485.59 67.71,486.62 67.76,487.53 67.81,489.47 67.87,491.58 67.92,492.9 67.97,494.07 68.02,494.76 68.07,496.71 68.12,498.42 68.18,499.27 68.23,500.81 68.28,502.44 68.33,503.36 68.38,504.42 68.43,505.32 68.49,506.85 68.54,508.88 68.59,509.87 68.64,512.03 68.69,514.21 68.74,514.77 68.8,516.11 68.85,517.39 68.9,519.51 68.97,521.12 69.03,523.6 69.1,524.73 69.17,525.91 69.23,527.24 69.3,527.95 69.37,529.28 69.43,530.17 69.5,532.14 69.57,533.77 69.63,534.52 69.7,536.56 69.77,537.86 69.83,538.47 69.9,540.14 69.97,541.8 70.03,543.33 70.1,545 70.17,545.9 70.23,547.37 70.3,548.95 70.41,550.17 70.52,551.5 70.63,552.9 70.74,555.02 70.85,556.41 70.96,558.12 71.07,559.34 71.18,560.36 71.29,561.15 71.4,563.31 71.5,564.1 71.61,566.08 71.72,568.06 71.83,569.28 71.94,569.99 72.05,571.56 72.16,573.18 72.27,575.03 72.38,576.04 72.49,577.4 72.6,578.42 72.67,579.92 72.75,581.44 72.82,582.66 72.9,584.4 72.97,585.95 73.05,587.87 73.12,588.39 73.2,589.64 73.27,591.77 73.35,593.41 73.42,594.01 73.5,595.64 73.58,596.92 73.65,598.32 73.72,599.88 73.8,601.78 73.93,602.65 74.07,604 74.2,605.52 74.33,606.72 74.47,608.35 74.6,609.48 74.73,610.9 74.87,612.55 75,613.39 75.22,615.54 75.44,617.17 75.67,619.03 75.89,619.78 76.11,621.33 76.33,622.53 76.56,623.28 76.78,625.2 77,626.63 77.34,627.86 77.67,630.88 78.01,632.25 78.35,634.09 78.69,634.7 79.03,636.09 79.36,638.36 79.7,639.58 80.09,640.53 80.47,641.72 80.86,643.85 81.24,645.36 81.63,646.24 82.01,648.02 82.4,648.54 82.87,649.68 83.33,651.36 83.8,652.91 84.4,654.46 85,655.99 85.6,657.28 86.2,659.08 86.47,660.19 86.73,662.94 87,664.3 87.27,664.78 87.53,665.95 87.8,667.42 88.07,668.4 88.33,670.13 88.6,672.16 89.35,673.64 90.1,675.17 90.85,676.89 91.6,677.9 91.97,678.77 92.33,680.73 92.7,682.76 93.07,684.23 93.43,685.29 93.8,687.2 94.17,687.74 94.53,689.69 94.9,691.13 95.5,692.53 96.1,693.42 96.7,695.05 96.95,696.76 97.2,698.84 97.45,701.01 97.7,702.2 97.95,703.18 98.2,704.04 98.68,706.5 99.16,707.44 99.63,708.6 100.11,710.35 100.59,711.75 101.07,713.2 101.54,714.63 102.02,716.47 102.5,717.31 103.13,718.53 103.76,719.79 104.39,720.74 105.01,722.31 105.64,723.12 106.27,725 106.9,726.04 108,728.4 109.1,728.92 110.2,729.88 111.3,731.57 112.4,732.8 113.5,733.95 114.57,735.05 115.63,736.02 116.7,737.17 117.8,738.43 118.9,740.77 121.1,742.38 121.83,743.65 122.57,745.41 123.3,747.08 124.73,747.65 126.17,748.88 127.6,749.91 129.07,751.15 130.53,752.38 132,753.38 133.1,754.81 134.2,755.3 135.3,756.98 136.4,757.97 137.75,758.45 139.1,759.52 140.45,760.85 141.8,761.17 143.18,762.3 144.55,762.76 145.93,763.41 147.3,763.54 148.73,765.23 150.17,766.62 151.6,767.82 153.07,769.56 154.53,769.51 156,771.1 157.47,771.22 158.93,771.61 160.4,771.22 162.03,771.66 163.65,771.39 165.28,771.95 166.9,771.65 168.37,772.52 169.83,772.42 171.3,773.16 172.38,774.51 173.45,774.75 174.53,775.38 175.6,777.23 177.07,777.8 178.53,778.57 180,779.14 180.9,780.58 181.8,781.36 183.45,782.8 185.1,783.38 186.75,782.66 188.4,783.02 190.03,783.88 191.65,784.33 193.28,784.35 194.9,784.18 196.35,784.16 197.8,783.83 199.25,783.28 200.7,783.96 202.15,783.46 203.6,783.08 205.07,783.68 206.53,785.27 208,785.75 209.45,785.9 210.9,786.89 212.35,787.38 213.8,787.72 215.25,788.26 216.7,788.44 218.17,789.12 219.63,789.6 221.1,790.17 222.57,790.11 224.03,790.98 225.5,790.79 226.95,790.52 228.4,791.22 229.85,791.84 231.3,791.8 232.75,792.12 234.2,791.73 235.65,792.67 237.1,792.78 238.55,792.8 240,792.66 241.45,793.63 242.9,793.63 244.35,793.56 245.8,794.21 247.25,794.72 248.7,794.31 250.15,794.38 251.6,794.77 253.07,794.58 254.53,795.33 256,796.33 257.47,796.74 258.93,796.82 260.4,796.89 262,796.65 263.6,797.65 265.2,797.96 266.8,797.68 268.4,797.97 270,798.46 271.46,798.57 272.91,798.91 274.37,798.51 275.83,799.13 277.29,799.62 278.74,799.91 280.2,800.8 281.66,801.06 283.11,800.59 284.57,800.93 286.03,801.08 287.49,801.5 288.94,802.02 290.4,802.43 291.84,801.9 293.29,801.81 294.73,802.22 296.17,802.3 297.61,801.91 299.06,802.09 300.5,802.56 301.96,802.5 303.41,803.24 304.87,803.24 306.33,803.55 307.79,803.71 309.24,803.89 310.7,804.84 312.16,804.37 313.61,805.11 315.07,805.34 316.53,805.75 317.99,805.22 319.44,805.31 320.9,805.24 322.36,806.1 323.81,805.6 325.27,805.54 326.73,805.87 328.19,806.33 329.64,806.66 331.1,806.16 332.56,805.97 334.01,806.12 335.47,806.6 336.93,807.72 338.39,806.82 339.84,807.06 341.3,807.46 342.74,807.56 344.19,806.96 345.63,806.95 347.07,807.41 348.51,807.37 349.96,807.61 351.4,808.2 352.86,808.74 354.31,808.69 355.77,808.82 357.23,808.79 358.69,809.4 360.14,809.9 361.6,809.88 363.06,810.23 364.51,809.97 365.97,810.11 367.43,809.76 368.89,810.51 370.34,810.11 371.8,810.06 373.26,811.27 374.71,811.41 376.17,810.8 377.63,810.6 379.09,810.1 380.54,810.37 382,811.02 383.46,811.35 384.91,811.55 386.37,810.83 387.83,811.33 389.29,810.73 390.74,811.93 392.2,812.09 393.64,811.25 395.09,811.37 396.53,812.42 397.97,812.66 399.41,811.96 400.86,812.5 402.3,812.4 403.72,812.95 405.14,812.12 406.57,812.41 407.99,812.14 409.41,812.55 410.83,813.05 412.25,813.03 413.67,812.09 415.1,813.17 416.52,812.69 417.94,812.59 419.36,811.76 420.78,812.66 422.2,813.18 423.63,812.98 425.05,813.33 426.47,813.14 427.89,812.93 429.31,812.14 430.73,812.42 432.16,812.66 433.58,813.26 435,813.36 436.4,813.8 437.8,813.43 439.2,814.04 440.6,813.83 442,813.72 443.4,813.48 444.8,813.34 446.2,813.41 447.6,813.8 449,814.34 450.4,814.02 451.8,813.85 453.2,813.94 454.6,813.96 456,814.44 457.4,814.86 458.8,814.69 460.2,815.13 461.6,815.38 463,815.12 464.4,815.66 465.8,815.42 467.2,815.87 468.6,815.59 470,816.11 471.4,815.67 472.8,816.25 474.2,816.32 475.6,816.12 477,815.44 478.4,815.12 479.8,814.99 481.2,815.32 482.6,815.06 484,815.49 485.4,815.83 486.8,816.27 488.2,816.13 489.6,815.68 491,815.74 492.4,815.74 493.8,815.79 495.2,816.38 496.6,816.17 498,816.18 499.4,815.6 500.8,815.53 502.2,816.47 503.6,816.28 505,816.03 506.43,816.12 507.86,816.52 509.29,817.24 510.72,817.13 512.15,816.14 513.58,816.74 515.02,817.06 516.45,817.98 517.88,817.28 519.31,817.21 520.74,816.99 522.17,816.73 523.6,816.39 525.03,816.18 526.46,816.43 527.89,817.21 529.32,817.19 530.75,816.57 532.18,816.71 533.62,816.64 535.05,816.94 536.48,816.68 537.91,817.45 539.34,816.68 540.77,817.29 542.2,816.18"/>
<polyline stroke="#ff7f0e" points="67.4,478.04 67.45,479.29 67.5,480.38 67.56,481.71 67.61,482.95 67.66,484.2 67.71,485.81 67.76,486.91 67.81,488.29 67.87,489.5 67.92,491.3 67.97,493.21 68.02,494.66 68.07,495.9 68.12,497.86 68.18,499.6 68.23,500.44 68.28,501.99 68.33,503.59 68.38,505.19 68.43,506.97 68.49,507.27 68.54,508.99 68.59,510.91 68.64,512.2 68.69,513.84 68.74,515.08 68.8,516.77 68.85,518.96 68.9,520.05 68.97,520.62 69.03,523.13 69.1,524.52 69.17,525.98 69.23,526.82 69.3,528.03 69.37,529.66 69.43,530.47 69.5,532.42 69.57,534.42 69.63,535.05 69.7,536.76 69.77,537.03 69.83,538.25 69.9,539.98 69.97,542.1 70.03,543.86 70.1,545.17 70.17,546.3 70.23,547.59 70.3,549.65 70.41,551.05 70.52,552.48 70.63,554.19 70.74,554.77 70.85,556.48 70.96,557.27 71.07,559.04 71.18,560.18 71.29,560.96 71.4,563.42 71.5,565.16 71.61,566.51 71.72,567.85 71.83,568.73 71.94,570.65 72.05,572.05 72.16,574.2 72.27,574.98 72.38,576.12 72.49,577.21 72.6,578.69 72.67,580.49 72.75,581.53 72.82,582.52 72.9,583.89 72.97,585.7 73.05,586.85 73.12,587.72 73.2,589.18 73.27,590.69 73.35,592.25 73.42,593.91 73.5,594.38 73.58,596.27 73.65,598.04 73.72,599.6 73.8,600.95 73.93,602.05 74.07,604.22 74.2,604.84 74.33,606.46 74.47,607.7 74.6,610.2 74.73,610.99 74.87,612.97 75,614.47 75.22,615.47 75.44,616.4 75.67,617.68 75.89,619.45 76.11,620.61 76.33,622.34 76.56,624.04 76.78,625.64 77,627.94 77.34,629.03 77.67,629.75 78.01,631.3 78.35,633.46 78.69,635.11 79.03,637.53 79.36,638.48 79.7,639.64 80.09,640.84 80.47,642.2 80.86,643.07 81.24,644.33 81.63,645.49 82.01,647.59 82.4,648.76 82.96,649.96 83.52,651.57 84.08,653.25 84.64,654.47 85.2,655.39 85.63,657.79 86.07,659.53 86.5,661.39 86.59,662.9 86.67,664.79 86.76,665.91 86.85,667.65 86.94,669.25 87.03,670.61 87.11,671.43 87.2,673.76 88.25,674.48 89.3,675.91 89.7,676.89 90.1,678.66 90.5,679.93 90.9,681.74 91.3,683.83 91.69,685.34 92.07,685.94 92.46,686.51 92.84,688.17 93.23,689.85 93.61,690.97 94,692.3 94.34,693.72 94.67,694.88 95.01,696.43 95.35,698.25 95.69,699.34 96.03,701.08 96.36,702.47 96.7,703.8 97.05,705.73 97.4,707.03 97.75,708.12 98.1,709.36 98.45,710.13 98.8,711.06 99.15,712.67 99.5,713.78 99.96,715.62 100.41,716.49 100.87,717.81 101.32,720.44 101.78,721.19 102.23,722.62 102.69,724.18 103.14,725.65 103.6,725.67 104.33,728.29 105.07,729.15 105.8,729.93 106.53,730.17 107.27,731.53 108,733.65 109.1,735.54 110.2,736.93 111.3,736.89 112.73,738.2 114.17,739.88 115.6,740.5 116.48,741.66 117.36,742.49 118.24,744.12 119.12,744.93 120,746.97 121.1,747.59 122.2,748.71 123.3,749.95 124.4,751.07 125.5,752.5 126.58,752.66 127.65,754.5 128.73,755.12 129.8,756.56 131.18,758.16 132.55,758.11 133.93,759.25 135.3,761.04 136.65,761.27 138,761.8 139.35,762.74 140.7,763.18 142.07,764.24 143.45,764.63 144.82,766.02 146.2,767.01 147.27,768.35 148.35,768.8 149.43,769.66 150.5,771.36 151.88,771.96 153.25,772.41 154.62,773.74 156,774.31 158,775.13 160,775.77 161.62,775.99 163.25,775.7 164.88,775.35 166.5,777.3 167.82,777.76 169.14,779.01 170.46,778.8 171.78,779.79 173.1,780.48 174.4,781.13 175.7,781.95 177,782.06 178.3,783.05 179.6,783.22 181.25,783.51 182.9,784.61 184.55,785.14 186.2,786.05 187.82,786.48 189.45,786.89 191.07,787.28 192.7,787.74 194.35,788.39 196,788.52 197.65,788.36 199.3,789.6 200.6,789.93 201.9,790.25 203.2,791.23 204.5,791.35 205.8,791.71 207.25,792.84 208.7,793.22 210.15,793.71 211.6,793.9 213.05,794.66 214.5,795.35 215.97,795.53 217.43,795.84 218.9,796.26 220.37,796.17 221.83,796 223.3,796.96 224.75,797.8 226.2,798.59 227.65,798.82 229.1,798.96 230.55,799.7 232,799.99 233.45,800.75 234.9,800.77 236.35,801.08 237.8,801.33 239.25,801.86 240.7,802.21 242.17,802.12 243.63,802.02 245.1,802.12 246.57,801.8 248.03,802.04 249.5,803.02 250.95,802.37 252.4,802.76 253.85,802.58 255.3,802.95 256.75,802.79 258.2,803.26 259.68,802.73 261.15,803.35 262.62,803.71 264.1,803.3 265.57,804 267.05,804.93 268.52,804.56 270,804.37 271.46,804.75 272.91,805.67 274.37,805.7 275.83,806.72 277.29,807.01 278.74,807.1 280.2,807.35 281.66,807.6 283.11,807.95 284.57,809.01 286.03,808.49 287.49,808.59 288.94,808.73 290.4,809.7 291.84,809.38 293.29,809.8 294.73,809.63 296.17,809.91 297.61,810.56 299.06,810.9 300.5,810.78 301.96,811.22 303.41,810.75 304.87,810.69 306.33,810.78 307.79,812 309.24,812.67 310.7,812.47 312.16,813.44 313.61,812.68 315.07,812.82 316.53,812.27 317.99,813.06 319.44,813.27 320.9,813.3 322.36,812.82 323.81,813.16 325.27,813.02 326.73,812.76 328.19,813.31 329.64,813.76 331.1,813.31 332.56,813.36 334.01,813.4 335.47,812.84 336.93,813.54 338.39,814.19 339.84,814.68 341.3,814.49 342.74,814.11 344.19,814.5 345.63,814.92 347.07,814.21 348.51,814.01 349.96,814.39 351.4,814.36 352.86,814.03 354.31,814.94 355.77,814.67 357.23,815.13 358.69,814.93 360.14,814.61 361.6,815.12 363.06,815.88 364.51,816.08 365.97,816.32 367.43,816.01 368.89,816.31 370.34,816.52 371.8,816.56 373.26,816.03 374.71,815.92 376.17,815.65 377.63,816.05 379.09,815.72 380.54,815.75 382,816.31 383.46,816.75 384.91,816.47 386.37,815.81 387.83,816.97 389.29,817.73 390.74,817.8 392.2,817.17 393.64,816.35 395.09,817.32 396.53,817.41 397.97,817.5 399.41,817.68 400.86,817.44 402.3,817.29 403.72,817.77 405.14,817.65 406.57,817.7 407.99,817.77 409.41,817.54 410.83,818.39 412.25,818.08 413.67,818.03 415.1,817.7 416.52,816.97 417.94,817.49 419.36,818.07 420.78,817.92 422.2,818.11 423.63,818.52 425.05,818.92 426.47,818.86 427.89,818.28 429.31,818.12 430.73,818.14 432.16,817.43 433.58,817.91 435,818.83 436.4,818.38 437.8,818.66 439.2,818.22 440.6,818.58 442,819.21 443.4,819.02 444.8,819.31 446.2,819.11 447.6,818.98 449,818.47 450.4,818.98 451.8,819.18 453.2,819.28 454.6,818.97 456,818.86 457.4,818.16 458.8,818.48 460.2,818.37 461.6,818.89 463,818.47 464.4,817.75 465.8,817.99 467.2,818.46 468.6,819.07 470,818.85 471.4,819.3 472.8,819.8 474.2,819.44 475.6,819.28 477,819.75 478.4,819.26 479.8,820.21 481.2,820.53 482.6,818.73 484,819.07 485.4,818.57 486.8,819.28 488.2,819.86 489.6,818.96 491,819.68 492.4,819.44 493.8,819.85 495.2,820.14 496.6,819.69 498,819.77 499.4,820.15 500.8,820.17 502.2,819.69 503.6,819.11 505,819.15 506.43,819.51 507.86,819.61 509.29,820.01 510.72,819.47 512.15,819.14 513.58,819.44 515.02,820.53 516.45,820.49 517.88,819.84 519.31,820.2 520.74,819.69 522.17,819.49 523.6,819.73 525.03,820.33 526.46,819.69 527.89,819.82 529.32,820.23 530.75,820.3 532.18,820.76 533.62,820.83 535.05,820.28 536.48,820.19 537.91,820.22 539.34,819.98 540.77,820.47 542.2,820.12"/>
<polyline stroke="#2ca02c" points="64.7,478.08 64.73,479.91 64.76,480.59 64.79,482.03 64.82,482.47 64.86,485.06 64.89,486.74 64.92,487.32 64.95,488.55 64.98,490 65.01,490.83 65.04,492.54 65.07,494.37 65.1,496.41 65.13,497.84 65.17,499.58 65.2,501.08 65.23,502.52 65.26,503.15 65.29,504.05 65.32,505.14 65.35,506.93 65.38,509.19 65.41,510.6 65.44,511.46 65.48,513.08 65.51,515.01 65.54,516.13 65.57,518.06 65.6,519.52 65.62,520.91 65.64,521.92 65.66,523.12 65.68,525.1 65.7,525.7 65.72,528.56 65.74,530.46 65.77,531.01 65.79,532.44 65.81,533.87 65.83,534.88 65.85,536.17 65.87,537.06 65.89,538.41 65.91,540.22 65.93,542.66 65.95,544.52 65.97,544.86 65.99,546.23 66.01,547.36 66.03,548.93 66.06,550.12 66.08,551.74 66.1,554.28 66.12,555.43 66.14,557.16 66.16,557.52 66.18,559.39 66.2,560.61 66.23,562.36 66.26,562.55 66.3,564.84 66.33,565.79 66.36,566.95 66.39,568.75 66.42,570.72 66.46,572.06 66.49,572.86 66.52,574.23 66.55,576.13 66.59,577.52 66.62,579.52 66.65,580.44 66.68,580.8 66.71,581.66 66.75,583.57 66.78,585.31 66.81,586.61 66.84,588.76 66.88,590.18 66.91,591.39 66.94,592.73 66.97,593.2 67,595.11 67.04,596.77 67.07,598.77 67.1,599.84 67.22,601.21 67.34,601.8 67.46,603.28 67.59,605.88 67.71,607.33 67.83,608.43 67.95,609.3 68.07,611.04 68.19,612.81 68.31,615.08 68.44,615.98 68.56,616.77 68.68,618.56 68.8,619.66 68.87,621.97 68.94,623.58 69.01,625.35 69.09,626.41 69.16,627.47 69.23,628.1 69.3,630 69.37,632.32 69.44,633.84 69.51,635.35 69.59,635.87 69.66,637.95 69.73,639.2 69.8,640.88 69.96,642.09 70.13,643.43 70.29,644.73 70.45,645.24 70.62,646.68 70.78,648.38 70.95,650.32 71.11,651.23 71.27,653.34 71.44,654.29 71.6,655.28 71.8,657.21 72,659.71 72.2,660.62 72.4,662.35 72.6,664.16 72.8,665.58 73,666.06 73.2,667.68 73.4,669.81 73.6,671.17 73.72,672.46 73.83,673.55 73.95,675.36 74.07,677.33 74.18,679.13 74.3,679.57 74.42,681.29 74.53,682.85 74.65,683.99 74.77,686.22 74.88,687.82 75,688.24 77,689.85 77.29,691.89 77.57,693.43 77.86,695.35 78.14,695.97 78.43,697.61 78.71,698.68 79,700.45 79.47,701.22 79.93,702.35 80.4,704.15 80.87,706.19 81.33,707.85 81.8,708.83 82.65,709.6 83.5,710.16 84.35,712.25 85.2,714.12 86.57,714.2 87.93,716.02 89.3,716.7 92,717.51 92.3,718.67 92.6,720.5 92.9,722.7 93.2,724.53 93.5,725.45 93.8,726.39 94.35,727.65 94.9,729.46 95.45,731.41 96,732.85 96.55,734.27 97.1,735.8 97.83,736.93 98.57,737.66 99.3,739.89 99.85,741.52 100.4,743.32 100.95,746.23 101.5,747.03 102.03,749.05 102.55,750.19 103.07,750.39 103.6,751.53 104.7,752.98 105.8,754.76 106.9,756.2 108,757.22 109.1,758.02 110.2,760.14 111.3,760.94 112.4,761.59 113.83,763.38 115.27,764 116.7,765.32 118.17,765.85 119.63,766.87 121.1,767.97 122.57,769.08 124.03,770.73 125.5,771.53 126.93,772.69 128.37,773.12 129.8,773.26 131.18,774.03 132.55,774.73 133.93,775.84 135.3,775.87 136.4,777.88 137.83,778.19 139.27,777.29 140.7,778.3 142.35,778.28 144,779.77 145.65,780.08 147.3,780.62 148.73,781.39 150.17,781.75 151.6,781.8 153.07,782.66 154.53,783.27 156,784.17 158,784.27 160,784.53 161.3,785.58 162.6,786.85 163.9,786.64 165.2,787.32 166.5,788.64 167.82,789.52 169.14,789.08 170.46,789.32 171.78,790.48 173.1,791.37 174.55,791.59 176,791.92 177.45,793.04 178.9,793.32 180.35,793.64 181.8,793.6 183.36,794.67 184.91,795.75 186.47,795.48 188.03,796.15 189.59,796.16 191.14,796.6 192.7,797.25 194.26,797.61 195.81,797.76 197.37,798.23 198.93,798.4 200.49,798.02 202.04,798.42 203.6,799.63 205.07,799.57 206.53,800.02 208,800.19 209.47,799.94 210.93,799.93 212.4,799.74 213.96,801.48 215.51,800.99 217.07,800.75 218.63,801.53 220.19,800.87 221.74,800.61 223.3,801.08 224.86,801.06 226.41,801.68 227.97,801.9 229.53,801.99 231.09,802.59 232.64,802.93 234.2,802.8 235.66,802.74 237.11,803.15 238.57,802.91 240.02,803.27 241.48,803.21 242.93,802.8 244.39,803.61 245.84,803.74 247.3,804.18 248.86,804.32 250.41,804.94 251.97,804.05 253.53,804 255.09,804.28 256.64,805.2 258.2,805.06 259.76,805.67 261.31,805.07 262.87,805.13 264.43,804.32 265.99,804.76 267.54,805.47 269.1,805.35 270.69,805.13 272.27,805.53 273.86,805.89 275.44,806.64 277.03,806.89 278.61,806.03 280.2,806.14 281.66,805.65 283.11,806.15 284.57,807.18 286.03,807.78 287.49,808.05 288.94,808.96 290.4,809.15 291.84,809.33 293.29,809.1 294.73,809.14 296.17,809.42 297.61,808.85 299.06,809.59 300.5,809.16 301.96,809.5 303.41,808.95 304.87,809.44 306.33,808.49 307.79,808.44 309.24,809.4 310.7,809.72 312.16,809.8 313.61,810.03 315.07,810.56 316.53,810.27 317.99,810.35 319.44,810.28 320.9,810.26 322.36,810.64 323.81,810.41 325.27,810.62 326.73,810.38 328.19,810.11 329.64,810.82 331.1,810.37 332.56,810.54 334.01,811.2 335.47,811.78 336.93,811.18 338.39,811.41 339.84,811.16 341.3,812.26 342.74,811.84 344.19,811.43 345.63,811.16 347.07,811.54 348.51,811.06 349.96,811.47 351.4,811.77 352.86,812.75 354.31,813.14 355.77,813.07 357.23,812.7 358.69,812.85 360.14,813.14 361.6,813.39 363.06,813.78 364.51,813.4 365.97,814.3 367.43,813.27 368.89,813.13 370.34,812.55 371.8,812.93 373.26,813.42 374.71,813.61 376.17,813.48 377.63,812.79 379.09,812.85 380.54,812.52 382,813.51 383.46,813.9 384.91,813.57 386.37,813.9 387.83,813.82 389.29,813.62 390.74,814.11 392.2,813.64 393.64,813.75 395.09,813.84 396.53,813.62 397.97,813.39 399.41,813.6 400.86,814.02 402.3,813.59 403.72,813.6 405.14,814.16 406.57,814.41 407.99,814.42 409.41,813.76 410.83,814.39 412.25,814.73 413.67,814.38 415.1,815.29 416.52,814.86 417.94,814.55 419.36,814.54 420.78,815.02 422.2,814.86 423.63,816.06 425.05,816.07 426.47,815.94 427.89,815.79 429.31,816.2 430.73,815.75 432.16,815.68 433.58,815.11 435,815.92 436.4,815.55 437.8,815.6 439.2,816.88 440.6,817.06 442,816.01 443.4,816.19 444.8,815.14 446.2,815.49 447.6,815.94 449,816.67 450.4,817.51 451.8,816.77 453.2,816.06 454.6,815.76 456,815.82 457.4,816.26 458.8,816.16 460.2,816.46 461.6,816.81 463,817.17 464.4,816.43 465.8,816.56 467.2,815.92 468.6,815.81 470,816.61 471.4,816.82 472.8,817.19 474.2,817.05 475.6,816.42 477,817.1 478.4,816.87 479.8,817.09 481.2,817.12 482.6,817.5 484,817.49 485.4,818.14 486.8,818.7 488.2,818.39 489.6,817.78 491,817.77 492.4,817.73 493.8,817.68 495.2,818.16 496.6,817.79 498,818.15 499.4,817.67 500.8,818.15 502.2,818.78 503.6,818.05 505,818 506.43,817.28 507.86,818.07 509.29,817.81 510.72,817.9 512.15,818.7 513.58,817.87 515.02,818.64 516.45,818.24 517.88,818.51 519.31,818.25 520.74,818.38 522.17,818.33 523.6,818.39 525.03,817.79 526.46,817.97 527.89,818.28 529.32,817.93 530.75,818.67 532.18,819.06 533.62,819.46 535.05,819.21 536.48,819.31 537.91,819.07 539.34,818.57 540.77,819.06 542.2,819.77"/>
<polyline stroke="#9467bd" points="64.7,477.33 64.73,478.86 64.76,479.88 64.79,482.21 64.82,483.44 64.86,484.58 64.89,486.78 64.92,487.41 64.95,489.58 64.98,490.99 65.01,492.12 65.04,493.62 65.07,494.71 65.1,496.79 65.13,498.34 65.17,499.78 65.2,500.85 65.23,501.89 65.26,503.8 65.29,504.7 65.32,506.14 65.35,507.57 65.38,509.66 65.41,511.19 65.44,512.67 65.48,514.37 65.51,515.96 65.54,516.64 65.57,517.8 65.6,519.33 65.62,520.96 65.64,522.5 65.66,524.47 65.68,525.28 65.7,526.6 65.72,528.02 65.74,530.45 65.77,531.12 65.79,531.93 65.81,533.26 65.83,533.76 65.85,535.35 65.87,537.06 65.89,539.45 65.91,540.08 65.93,541.61 65.95,543.13 65.97,544.52 65.99,545.88 66.01,547.51 66.03,549.29 66.06,551.28 66.08,553.34 66.1,554.26 66.12,554.78 66.14,556.51 66.16,557.41 66.18,558.74 66.2,560.09 66.23,561.78 66.26,563.04 66.3,564.44 66.33,565.51 66.36,566.87 66.39,568.17 66.42,569.24 66.46,571.59 66.49,572 66.52,573.5 66.55,575.82 66.59,577.28 66.62,578.28 66.65,579.23 66.68,580.54 66.71,582.82 66.75,583.68 66.78,584.82 66.81,586.61 66.84,587.78 66.88,589.96 66.91,591.5 66.94,592.89 66.97,594.01 67,594.89 67.04,596.57 67.07,598.27 67.1,599.7 67.22,602.27 67.34,603.44 67.46,604.01 67.59,606.5 67.71,607.33 67.83,609.26 67.95,610.55 68.07,611.62 68.19,612.32 68.31,613.93 68.44,615.67 68.56,616.78 68.68,618.06 68.8,619.78 68.87,621.54 68.94,623.24 69.01,624.98 69.09,625.52 69.16,627.36 69.23,629.18 69.3,630.97 69.37,632.34 69.44,633.91 69.51,635.49 69.59,637.23 69.66,638.55 69.73,638.67 69.8,641.41 69.96,642 70.13,642.75 70.29,644.4 70.45,645.99 70.62,648.27 70.78,649.77 70.95,650.73 71.11,652.28 71.27,654 71.44,654.78 71.6,655.89 71.8,657.27 72,659.09 72.2,660.35 72.4,661.95 72.6,663.72 72.8,664.27 73,666.33 73.2,668.07 73.4,669.67 73.6,670.71 73.72,672.73 73.83,673.19 73.95,674.67 74.07,675.65 74.18,677.22 74.3,679.23 74.42,680.66 74.53,682.35 74.65,684.35 74.77,686.12 74.88,687.33 75,688.97 77,690.8 77.29,691.76 77.57,692.6 77.86,694.3 78.14,696.95 78.43,698.3 78.71,699.26 79,700.97 79.47,702.55 79.93,704.37 80.4,704.8 80.87,706 81.33,706.23 81.8,708.38 82.65,710.4 83.5,711.64 84.35,714.12 85.2,715.63 86.57,715.96 87.93,717.4 89.3,718.58 92,718.46 92.3,718.65 92.6,720.45 92.9,722.02 93.2,724.07 93.5,725.71 93.8,726.84 94.35,728.95 94.9,730.33 95.45,731.37 96,732.52 96.55,733.69 97.1,735.33 97.83,736.2 98.57,738.46 99.3,739.63 99.85,741.22 100.4,742.26 100.95,744.35 101.5,746.64 102.03,748.18 102.55,749.08 103.07,749.96 103.6,750.5 104.7,752.61 105.8,754.32 106.9,756.19 108,758.05 109.1,758.26 110.2,758.78 111.3,759.39 112.4,760.49 113.83,762.09 115.27,763.17 116.7,764.91 118.17,765.7 119.63,767.25 121.1,768.35 122.57,769.9 124.03,770.96 125.5,771.94 126.93,772.29 128.37,772.58 129.8,773.86 131.18,773.94 132.55,775.12 133.93,775.95 135.3,776.01 136.65,776.11 138,777.07 139.35,776.98 140.7,778.39 142.17,780.39 143.63,781.41 145.1,782.72 146.57,783.44 148.03,783.85 149.5,784.89 150.93,785.92 152.37,786.52 153.8,787.29 155.27,788.27 156.73,789.35 158.2,788.59 159.58,789.47 160.97,790.11 162.35,791.2 163.73,791.18 165.12,791.99 166.5,792.89 167.82,792.69 169.14,793.24 170.46,794.1 171.78,794.78 173.1,795.5 174.55,796.42 176,796.9 177.45,796.76 178.9,797.34 180.35,798.4 181.8,799.47 183.25,799.24 184.7,799.59 186.15,801.49 187.6,801.71 189.05,802.87 190.5,802.77 191.97,802.69 193.43,802.71 194.9,803.43 196.37,803.31 197.83,803.23 199.3,803.1 200.75,804.17 202.2,804 203.65,804.32 205.1,803.95 206.55,804.53 208,805.64 209.45,805.57 210.9,806.17 212.35,806.78 213.8,806.79 215.25,807.45 216.7,807.17 218.17,806.24 219.63,806.88 221.1,806.52 222.57,807.04 224.03,807.2 225.5,806.9 226.95,808.47 228.4,809.1 229.85,808.9 231.3,809.8 232.75,810.63 234.2,810.9 235.65,810.86 237.1,811.24 238.55,811.45 240,810.8 241.45,811.89 242.9,811.75 244.35,811.93 245.8,811.49 247.25,811.51 248.7,812.22 250.15,813.17 251.6,812.92 253.07,812.56 254.53,812.48 256,812.86 257.47,812.46 258.93,813.59 260.4,814.8 261.85,814.48 263.3,815.21 264.75,814.96 266.2,815.13 267.65,815.71 269.1,816.53 270.69,816.59 272.27,816.14 273.86,815.66 275.44,815.74 277.03,815.02 278.61,814.93 280.2,815.44 281.66,815.56 283.11,816.06 284.57,815.76 286.03,816.37 287.49,816.34 288.94,816.73 290.4,816.66 291.84,817.5 293.29,816.96 294.73,816.66 296.17,817.28 297.61,817.07 299.06,817.57 300.5,817.85 301.96,817.75 303.41,818.15 304.87,818.82 306.33,818.73 307.79,818.37 309.24,818.92 310.7,817.58 312.16,818.61 313.61,819.28 315.07,819.17 316.53,819.55 317.99,818.84 319.44,818.84 320.9,819.66 322.36,819.98 323.81,819.87 325.27,819.93 326.73,819.68 328.19,820.51 329.64,819.92 331.1,819.63 332.56,819.77 334.01,820.46 335.47,820.51 336.93,820.44 338.39,820.19 339.84,820.71 341.3,820.75 342.74,820.1 344.19,820.4 345.63,820.32 347.07,820.27 348.51,820.43 349.96,821.04 351.4,822.63 352.86,822.36 354.31,822.56 355.77,822.8 357.23,822.39 358.69,821.9 360.14,821.09 361.6,821.2 363.06,821.17 364.51,821.27 365.97,821.02 367.43,821.47 368.89,821.2 370.34,821.37 371.8,821.51 373.26,823.01 374.71,822.46 376.17,822.97 377.63,823.32 379.09,822.41 380.54,821.98 382,821.96 383.46,822.59 384.91,822.28 386.37,822.57 387.83,823.15 389.29,823.32 390.74,823.8 392.2,823.08 393.64,823.35 395.09,823.17 396.53,823.58 397.97,823.07 399.41,823.46 400.86,822.8 402.3,822.95 403.76,822.18 405.22,822.89 406.67,822.6 408.13,823.49 409.59,823.41 411.05,823.32 412.51,823.6 413.96,823.67 415.42,823.25 416.88,823.25 418.34,822.86 419.79,823.19 421.25,822.98 422.71,823.52 424.17,824 425.63,823.48 427.08,824.05 428.54,822.5 430,822.45 431.43,823.15 432.86,823.08 434.29,823.38 435.71,823.15 437.14,823.59 438.57,823.3 440,823.04 441.43,822.49 442.86,823.58 444.29,823.49 445.71,822.92 447.14,823.03 448.57,823.74 450,824.65 451.43,824.74 452.86,823.88 454.29,823.97 455.71,823.2 457.14,823.5 458.57,823.79 460,823.46 461.43,823.69 462.86,824.38 464.29,824.27 465.71,824.23 467.14,823.75 468.57,823.27 470,824.19 471.43,823.78 472.86,824.24 474.29,824.36 475.71,824.92 477.14,824.34 478.57,824.56 480,824.71 481.43,824.28 482.86,825.26 484.29,824.79 485.71,824.65 487.14,823.99 488.57,824.15 490,823.56 491.43,823.87 492.86,823.11 494.29,822.76 495.71,823.68 497.14,824.1 498.57,823.8 500,824.15 501.41,824.41 502.81,824.19 504.22,824.23 505.63,824.51 507.03,823.61 508.44,823.9 509.85,824.56 511.25,824.33 512.66,824.51 514.07,824.61 515.47,823.93 516.88,823.08 518.29,823.44 519.69,822.98 521.1,823.26 522.51,822.85 523.91,822.98 525.32,823.08 526.73,823.27 528.13,823.3 529.54,823.43 530.95,822.74 532.35,822.78 533.76,822.71 535.17,822.23 536.57,822.49 537.98,822.86 539.39,823.27 540.79,823.8 542.2,822.79"/>
<polyline stroke="#8c564b" points="109,477.51 109.29,478.87 109.57,480.19 109.86,481.86 110.15,483.77 110.43,484.8 110.72,485.59 111.01,486.73 111.3,488.21 111.36,489.76 111.43,491.48 111.5,492.32 111.57,495.24 111.64,496.8 111.71,497.92 111.78,499.75 111.85,500.63 111.98,502.01 112.12,503.87 112.25,505.29 112.39,506.49 112.53,508.35 112.66,509.73 112.8,511.6 113.08,512.76 113.36,514.33 113.64,515.41 113.92,517.35 114.2,518.22 114.48,519.82 114.76,521.31 115.04,522.27 115.23,523.98 115.42,525.5 115.62,526.79 115.81,528.11 116,529.34 116.2,530.9 116.54,532.4 116.88,534.25 117.22,536.63 118.13,537.53 119.04,538.21 119.96,539.43 120.32,541.01 120.67,542.42 121.03,544.07 121.39,545.09 121.74,547.07 122.1,548.04 122.46,549.37 122.81,550.46 123.17,552.27 123.53,554.42 123.7,556.31 123.87,558.18 124.05,559.44 124.22,560.87 124.39,561.56 124.57,563.6 124.74,563.6 124.91,566.19 125.09,567.13 125.17,568.45 125.25,570 125.34,571.5 125.42,572.99 125.51,574.97 125.59,575.74 125.68,577.44 125.76,578.26 125.84,579.67 125.93,581.24 126.01,582.75 126.1,584.02 126.18,585.74 126.42,586.99 126.66,588.03 126.9,589.27 127.14,590.37 127.38,592.12 127.62,593.22 127.86,594.19 128.1,596.06 128.34,597.54 128.58,599.17 128.82,600.14 129.06,602.03 129.3,603.14 129.78,605.14 130.26,606.6 130.73,607.94 131.21,609.57 131.69,611.24 132.17,612.44 132.64,613.52 133.12,614.88 133.6,617.12 133.9,617.34 134.2,618.64 134.51,620.3 134.81,622.15 135.11,623.97 135.41,625.41 135.72,626.3 136.02,628.88 136.32,630.1 136.62,631.08 137.02,632.42 137.41,634.33 137.81,634.64 138.2,635.27 138.59,637.12 138.99,638.58 139.38,640.6 139.77,642.41 140.26,643.28 140.74,644.57 141.23,645.48 141.71,646.41 142.2,648.25 142.68,650.19 143.17,651.89 143.62,654.18 144.07,655.15 144.53,656.82 144.98,657.65 145.43,658.7 145.88,660.42 146.34,661.73 147.05,662.67 147.76,664.59 148.47,666.01 149.18,666.57 149.6,668.02 150.03,670.03 150.45,670.79 150.88,673.13 151.3,674.35 152.29,675.9 153.29,676.65 154.28,678.14 154.8,680.73 155.32,682.02 155.84,683.55 156.36,685.35 156.83,687.22 157.31,688.57 157.78,690.09 158.26,691.29 158.73,692.29 159.21,693.51 159.86,694.99 160.51,696.78 161.17,698.24 161.82,699.3 162.47,700.75 163.13,702.5 163.86,704.99 164.59,706.32 165.33,706.78 166.06,708.29 166.79,709.57 167.6,711.11 168.4,712.76 169.2,714.06 170.38,716.29 171.56,717.33 172.97,718.24 174.38,719.44 175.79,720.11 176.61,721.6 177.43,722.09 178.25,724.65 179.07,726.55 179.61,728.13 180.16,729.86 180.7,731.7 181.24,732.58 182.15,733.36 183.05,734.77 183.95,736.01 185.18,736.88 186.4,737.43 187.63,738.3 189.12,740.36 190.62,741.41 191.68,743.17 192.74,745.75 193.52,746.91 194.3,747.35 195.08,749.26 195.85,750.46 197.66,751.29 199.47,752.05 201.43,752.05 203.38,753 204.64,754.02 205.9,755.31 207.16,755.19 208.4,756.23 209.64,756.97 210.88,757.6 212.12,757.5 213.03,758.9 213.95,760.87 214.87,762.36 215.79,762.74 216.57,764.6 217.34,766.54 218.12,767.72 218.9,769.39 220,769.49 221.1,771 222.2,771.88 223.3,772.53 224.93,773.75 226.55,774.27 228.18,775.01 229.8,775.51 231.18,775.69 232.55,776.93 233.93,777.84 235.3,777.79 237.1,778.19 238.9,777.74 240.7,778.84 242.35,779.6 244,780.32 245.65,780.74 247.3,781.22 248.93,781.72 250.55,782.5 252.18,782.15 253.8,782.43 255.45,783.11 257.1,783.13 258.75,783.33 260.4,784.09 262.02,784 263.65,785.42 265.27,786.15 266.9,787.03 268.45,789.06 270,789.79 271.46,789.89 272.91,789.51 274.37,789.62 275.83,790.27 277.29,790.31 278.74,790.37 280.2,790.51 281.66,791.13 283.11,791.48 284.57,790.5 286.03,790.48 287.49,791.26 288.94,792.64 290.4,792.33 291.84,792.56 293.29,792.18 294.73,793.33 296.17,793.43 297.61,793.15 299.06,794.32 300.5,793.91 301.96,794.64 303.41,794.71 304.87,794.57 306.33,795.38 307.79,796.51 309.24,796.21 310.7,796.98 312.16,797.18 313.61,797.03 315.07,797.22 316.53,797.7 317.99,797.19 319.44,797.14 320.9,797.97 322.36,797.98 323.81,798.3 325.27,799.21 326.73,798.6 328.19,800.08 329.64,800.16 331.1,800.93 332.56,801.37 334.01,801.24 335.47,801.84 336.93,802.04 338.39,801.73 339.84,802.48 341.3,803.38 342.74,803.19 344.19,803.44 345.63,804.73 347.07,804.63 348.51,804.53 349.96,804.69 351.4,805.04 352.86,805.44 354.31,805.87 355.77,805.37 357.23,805.62 358.69,804.95 360.14,805.92 361.6,806.97 363.06,807 364.51,807.88 365.97,807.96 367.43,808.7 368.89,808.33 370.34,808.81 371.8,809.05 373.26,808.73 374.71,808.47 376.17,808.77 377.63,808.59 379.09,808.65 380.54,809.38 382,808.9 383.46,809.23 384.91,809.49 386.37,810.48 387.83,809.78 389.29,809.67 390.74,809.34 392.2,810.02 393.64,809.68 395.09,809.7 396.53,810.6 397.97,810.65 399.41,811.03 400.86,811.16 402.3,810.63 403.72,811.78 405.14,810.8 406.57,811.15 407.99,811.72 409.41,811.3 410.83,811.53 412.25,811.93 413.67,811.99 415.1,812.07 416.52,812.7 417.94,812.76 419.36,812.46 420.78,811.56 422.2,812.35 423.63,812.38 425.05,811.93 426.47,813.08 427.89,812.85 429.31,812.75 430.73,811.96 432.16,811.92 433.58,812.2 435,812.27 436.4,812.35 437.8,812.43 439.2,812.85 440.6,813.25 442,812.54 443.4,812.55 444.8,813.6 446.2,813.56 447.6,812.98 449,813.21 450.4,813.86 451.8,813.93 453.2,813.76 454.6,812.68 456,813.64 457.4,813.14 458.8,813.71 460.2,813.72 461.6,814.88 463,814.39 464.4,814.96 465.8,814.93 467.2,814.33 468.6,814.44 470,814.93 471.4,814.47 472.8,814.5 474.2,814.22 475.6,814.73 477,814.93 478.4,814.65 479.8,814.2 481.2,813.73 482.6,813.95 484,814.09 485.4,814.4 486.8,814.73 488.2,814.94 489.6,815.18 491,815.38 492.4,815.2 493.8,815.43 495.2,815.21 496.6,814.59 498,815.04 499.4,814.49 500.8,814.64 502.2,815.31 503.6,815.12 505,815.51 506.43,815.36 507.86,815.61 509.29,815.85 510.72,815.53 512.15,815.57 513.58,814.64 515.02,814.84 516.45,815.19 517.88,815 519.31,815.29 520.74,815.62 522.17,815.27 523.6,815.47 525.03,816.17 526.46,816 527.89,816.58 529.32,816.04 530.75,816.07 532.18,816.57 533.62,816.84 535.05,816.44 536.48,816.38 537.91,816.04 539.34,816.15 540.77,816.46 542.2,816.65"/>
<polyline stroke="#d62728" points="109,477.58 109.14,478.54 109.29,479.64 109.43,481.39 109.57,482.95 109.71,484.79 109.86,486.18 110,487.61 110.15,489.76 110.3,491.9 110.45,493.77 110.6,495.28 110.75,496.98 110.9,498.53 111.05,499.37 111.2,500.2 111.39,501.64 111.57,503.88 111.76,505.53 111.94,506.88 112.13,509 112.31,510.55 112.5,512.46 112.69,512.33 112.88,513.11 113.06,514.15 113.25,516.28 113.44,518.51 113.62,520.48 113.81,521.09 114,522.96 114.17,524.21 114.33,525.4 114.5,526.57 114.67,527.19 114.83,527.85 115,529.21 115.6,530.57 116.2,533.35 116.8,535.89 117.7,537.4 118.6,539.31 119.5,540.42 119.78,541.5 120.06,543.73 120.34,545.88 120.62,546.7 120.9,548.28 121.18,549.24 121.46,550.65 121.74,551.86 122.02,553.04 122.3,554.31 122.5,556.25 122.7,558.16 122.9,559.01 123.1,561.15 123.3,562.86 123.5,563.67 123.7,565.11 123.9,566.01 124.1,567.28 124.24,568.7 124.38,570.21 124.52,570.99 124.65,572.85 124.79,574.6 124.93,575.94 125.07,577.15 125.21,578.79 125.35,580.11 125.48,581.98 125.62,582.97 125.76,584.37 125.9,586.29 126.11,587.56 126.32,589.66 126.52,589.64 126.73,591.54 126.94,592.74 127.15,594.06 127.35,595.08 127.56,596.26 127.77,597.95 127.98,599.41 128.18,600.86 128.39,602.21 128.6,603.86 129.01,605.1 129.42,606.55 129.83,607.58 130.24,608.88 130.66,610.12 131.07,611.7 131.48,612.68 131.89,614.69 132.3,616.59 132.66,617.43 133.02,617.81 133.38,620.21 133.74,621.93 134.1,623.98 134.46,625.37 134.82,627.09 135.18,627.87 135.54,628.92 135.9,630.69 136.35,632.09 136.8,633.72 137.25,635.6 137.7,636.39 138.15,637.21 138.6,638.79 139.05,641.27 139.5,642.47 139.89,644.13 140.27,644.49 140.66,646.45 141.04,647.35 141.43,648.62 141.81,649.88 142.2,651.24 142.61,652.58 143.03,653.86 143.44,655.35 143.86,656.8 144.27,658.6 144.69,660.02 145.1,661.53 146,663.3 146.9,664.85 147.8,666.21 148.7,668.62 149.14,670.18 149.58,671.64 150.02,672.6 150.46,674.11 150.9,675.17 151.63,676.39 152.37,678.56 153.1,678.92 153.65,679.8 154.2,681.8 154.75,683.73 155.3,684.52 155.9,686.5 156.5,688.65 157.1,689.7 157.7,691.25 158.3,692.71 158.9,693.54 159.5,695.59 160.1,697.73 160.7,698.56 161.3,699.56 161.9,701.26 162.5,702.98 163.1,704.1 163.7,705.21 164.3,706.74 164.9,708.79 165.5,709.36 166.47,711.43 167.43,712.98 168.4,713.37 169.85,714.19 171.3,716.25 172.5,717.67 173.7,718.17 174.9,719.33 175.62,721.33 176.35,723.1 177.08,724.2 177.8,726.73 178.53,727.41 179.25,728.44 179.97,730.19 180.7,731.98 181.67,733.4 182.63,733.75 183.6,735.83 185.05,737.67 186.5,738.62 188,739.6 189.5,741.45 190.47,742.28 191.43,743.63 192.4,744.79 193.12,746.7 193.85,749.06 194.58,749.67 195.3,750.36 196.75,751.19 198.2,752.2 199.63,753.04 201.07,753.25 202.5,754.12 203.97,754.48 205.43,754.7 206.9,755.14 208.37,755.27 209.83,757.12 211.3,758.22 212.1,759.18 212.9,760.49 213.7,762.63 214.5,763.73 215.38,764.11 216.26,764.97 217.14,765.79 218.02,767.96 218.9,768.54 220,769.85 221.1,771.23 222.2,771.89 223.3,773.03 224.93,774.02 226.55,773.82 228.18,773.7 229.8,775 231.18,775.87 232.55,776.75 233.93,776.94 235.3,778.72 237.1,778.46 238.9,778.21 240.7,778.55 242.35,779.59 244,781.46 245.65,780.73 247.3,782.05 248.93,781.88 250.55,782.22 252.18,782.5 253.8,783.06 255.45,783.96 257.1,784.5 258.75,784.81 260.4,785.49 262.02,785.49 263.65,786.11 265.27,786.06 266.9,786.88 268.27,788.35 269.65,789.3 271.02,789.3 272.4,790.01 274,791.72 275.6,792.72 277.13,792.64 278.67,793.03 280.2,793.47 281.66,794.11 283.11,794.28 284.57,794.07 286.03,794.97 287.49,794.91 288.94,796.15 290.4,795.45 291.84,795.84 293.29,796.22 294.73,796.36 296.17,797.31 297.61,797.54 299.06,797.13 300.5,797.74 301.96,798.3 303.41,798.98 304.87,798.92 306.33,799.41 307.79,799.63 309.24,800.22 310.7,800.2 312.16,800.67 313.61,801.39 315.07,801.83 316.53,801.77 317.99,801.5 319.44,802.01 320.9,802.5 322.36,803.42 323.81,804.14 325.27,804.44 326.73,804.07 328.19,803.89 329.64,804.04 331.1,804.38 332.56,804.52 334.01,806.08 335.47,806.65 336.93,807.26 338.39,807.38 339.84,807.91 341.3,809 342.74,809.03 344.19,809.24 345.63,809.65 347.07,810.42 348.51,810.56 349.96,810.72 351.4,810.62 352.86,810.63 354.31,810.96 355.77,811.15 357.23,812 358.69,812.24 360.14,813.39 361.6,814.1 363.06,813.8 364.51,814.07 365.97,814.2 367.43,814.07 368.89,814.28 370.34,814.54 371.8,814.59 373.26,814.1 374.71,813.81 376.17,814.35 377.63,815.23 379.09,814.85 380.54,815.03 382,815.48 383.46,815.94 384.91,815.88 386.37,815.6 387.83,816.55 389.29,816.57 390.74,817.07 392.2,817.13 393.64,817.56 395.09,817.88 396.53,818.3 397.97,818.03 399.41,818.62 400.86,817.83 402.3,819.21 403.72,818.76 405.14,818.14 406.57,817.88 407.99,817.91 409.41,818.07 410.83,818.31 412.25,817.91 413.67,819 415.1,819.68 416.52,819.34 417.94,819.7 419.36,820.05 420.78,820.11 422.2,819.41 423.63,819.88 425.05,819.54 426.47,819.53 427.89,819.71 429.31,819.97 430.73,820.23 432.16,820.8 433.58,820.6 435,820.48 436.4,820.16 437.8,820 439.2,820.25 440.6,820.39 442,820.65 443.4,820.72 444.8,820.68 446.2,820.72 447.6,819.73 449,820.97 450.4,820.85 451.8,820.79 453.2,820.82 454.6,820.19 456,820.3 457.4,819.97 458.8,819.91 460.2,820.68 461.6,820.34 463,820.78 464.4,820.6 465.8,821.2 467.2,821.48 468.6,820.78 470,821.29 471.4,821.62 472.8,821.15 474.2,820.86 475.6,820.63 477,820.78 478.4,820.89 479.8,820.74 481.2,821.17 482.6,820.07 484,820.38 485.4,821.06 486.8,821.51 488.2,820.94 489.6,821.69 491,821.17 492.4,820.97 493.8,821.86 495.2,821.87 496.6,821.93 498,821.93 499.4,821.3 500.8,821.33 502.2,821.61 503.6,822.2 505,822.03 506.43,821.48 507.86,821.03 509.29,820.66 510.72,820.92 512.15,821.94 513.58,822.32 515.02,822.34 516.45,821.99 517.88,822.21 519.31,821.67 520.74,820.91 522.17,820.84 523.6,821.34 525.03,823.1 526.46,823.15 527.89,822.57 529.32,822.42 530.75,822.59 532.18,821.87 533.62,821.81 535.05,821.97 536.48,821.46 537.91,822.19 539.34,822.4 540.77,822.54 542.2,821.92"/>
</g>
<rect x="63.5" y="477.6" width="478.7" height="356.3" fill="none" stroke="#000" stroke-width="1.07"/>
<line x1="58.8" x2="63.5" y1="833.9" y2="833.9" stroke="#000" stroke-width="1.07"/>
<text x="53.6" y="839.6" font-size="13.33" text-anchor="end">0.00</text>
<line x1="58.8" x2="63.5" y1="789.49" y2="789.49" stroke="#000" stroke-width="1.07"/>
<text x="53.6" y="795.19" font-size="13.33" text-anchor="end">0.05</text>
<line x1="58.8" x2="63.5" y1="745.08" y2="745.08" stroke="#000" stroke-width="1.07"/>
<text x="53.6" y="750.78" font-size="13.33" text-anchor="end">0.10</text>
<line x1="58.8" x2="63.5" y1="700.66" y2="700.66" stroke="#000" stroke-width="1.07"/>
<text x="53.6" y="706.36" font-size="13.33" text-anchor="end">0.15</text>
<line x1="58.8" x2="63.5" y1="656.25" y2="656.25" stroke="#000" stroke-width="1.07"/>
<text x="53.6" y="661.95" font-size="13.33" text-anchor="end">0.20</text>
<line x1="58.8" x2="63.5" y1="611.84" y2="611.84" stroke="#000" stroke-width="1.07"/>
<text x="53.6" y="617.54" font-size="13.33" text-anchor="end">0.25</text>
<line x1="58.8" x2="63.5" y1="567.42" y2="567.42" stroke="#000" stroke-width="1.07"/>
<text x="53.6" y="573.12" font-size="13.33" text-anchor="end">0.30</text>
<line x1="58.8" x2="63.5" y1="523.01" y2="523.01" stroke="#000" stroke-width="1.07"/>
<text x="53.6" y="528.71" font-size="13.33" text-anchor="end">0.35</text>
<line x1="58.8" x2="63.5" y1="478.6" y2="478.6" stroke="#000" stroke-width="1.07"/>
<text x="53.6" y="484.3" font-size="13.33" text-anchor="end">0.40</text>
<line x1="63.5" x2="63.5" y1="833.9" y2="838.6" stroke="#000" stroke-width="1.07"/>
<text x="63.5" y="853.8" font-size="13.33" text-anchor="middle">0</text>
<line x1="143.52" x2="143.52" y1="833.9" y2="838.6" stroke="#000" stroke-width="1.07"/>
<text x="143.52" y="853.8" font-size="13.33" text-anchor="middle">20</text>
<line x1="223.54" x2="223.54" y1="833.9" y2="838.6" stroke="#000" stroke-width="1.07"/>
<text x="223.54" y="853.8" font-size="13.33" text-anchor="middle">40</text>
<line x1="303.56" x2="303.56" y1="833.9" y2="838.6" stroke="#000" stroke-width="1.07"/>
<text x="303.56" y="853.8" font-size="13.33" text-anchor="middle">60</text>
<line x1="383.58" x2="383.58" y1="833.9" y2="838.6" stroke="#000" stroke-width="1.07"/>
<text x="383.58" y="853.8" font-size="13.33" text-anchor="middle">80</text>
<line x1="463.6" x2="463.6" y1="833.9" y2="838.6" stroke="#000" stroke-width="1.07"/>
<text x="463.6" y="853.8" font-size="13.33" text-anchor="middle">100</text>
<text x="302.85" y="873.1" font-size="13.33" text-anchor="middle">Time/min</text>
<text transform="translate(15.6 655.75) rotate(-90)" font-size="13.33" text-anchor="middle">North Diff/m</text>
<text x="302.85" y="470.3" font-size="16.0" text-anchor="middle">68-Percentile</text>
<rect x="445.7" y="484.2" width="90.1" height="121.1" rx="2.5" fill="#fff" fill-opacity="0.8" stroke="#d6d6d6" stroke-width="1.07"/>
<line x1="449.6" x2="478.4" y1="495.1" y2="495.1" stroke="#1f77b4" stroke-width="2.1"/>
<text x="488.6" y="499.8" font-size="13.33">S1-Flo</text>
<line x1="449.6" x2="478.4" y1="514.7" y2="514.7" stroke="#ff7f0e" stroke-width="2.1"/>
<text x="488.6" y="519.4" font-size="13.33">S1-AR</text>
<line x1="449.6" x2="478.4" y1="534.4" y2="534.4" stroke="#2ca02c" stroke-width="2.1"/>
<text x="488.6" y="539.1" font-size="13.33">S2-Flo</text>
<line x1="449.6" x2="478.4" y1="554" y2="554" stroke="#9467bd" stroke-width="2.1"/>
<text x="488.6" y="558.7" font-size="13.33">S2-AR</text>
<line x1="449.6" x2="478.4" y1="573.2" y2="573.2" stroke="#8c564b" stroke-width="2.1"/>
<text x="488.6" y="577.9" font-size="13.33">S3-Flo</text>
<line x1="449.6" x2="478.4" y1="592.9" y2="592.9" stroke="#d62728" stroke-width="2.1"/>
<text x="488.6" y="597.6" font-size="13.33">S3-AR</text>
</g>
</svg></body></html>
